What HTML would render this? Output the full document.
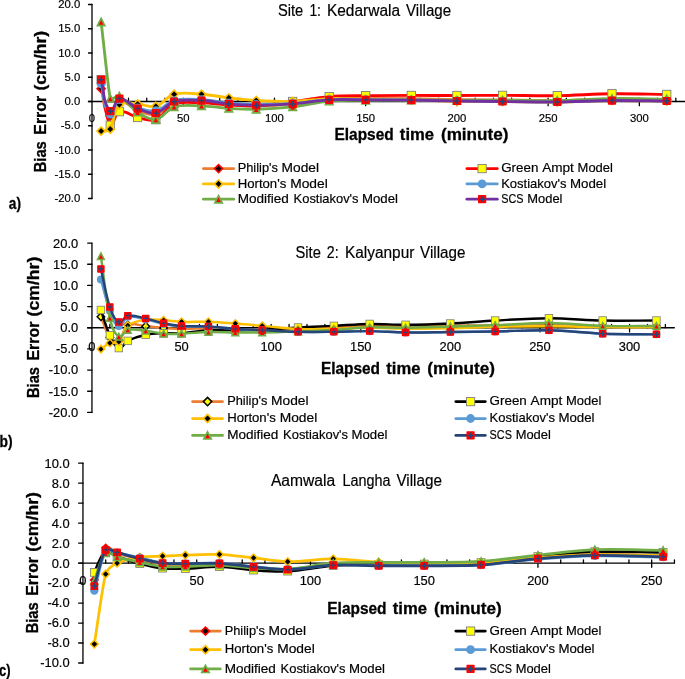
<!DOCTYPE html>
<html><head><meta charset="utf-8"><title>Bias Error charts</title>
<style>html,body{margin:0;padding:0;background:#fff}body{width:685px;height:679px;overflow:hidden}svg{display:block}text{font-family:'Liberation Sans', sans-serif;stroke:#000;stroke-width:.18px}</style></head><body>
<svg width="685" height="679" viewBox="0 0 685 679">
<rect width="685" height="679" fill="#fff"/>
<g>
<g stroke="#000" stroke-width="1.3" stroke-linecap="round" stroke-linejoin="round" fill="none">
<path d="M92,4.5V198.5"/>
<path d="M88.5,4.5H92M88.5,28.75H92M88.5,53H92M88.5,77.25H92M88.5,101.5H92M88.5,125.75H92M88.5,150H92M88.5,174.25H92M88.5,198.5H92"/>
<path d="M88.5,101.5H684.96"/>
<path d="M110.25,101.5V98.2M128.49,101.5V98.2M146.74,101.5V98.2M164.98,101.5V98.2M183.22,101.5V98.2M183.22,101.5V105.7M201.47,101.5V98.2M219.72,101.5V98.2M237.96,101.5V98.2M256.21,101.5V98.2M274.45,101.5V98.2M274.45,101.5V105.7M292.69,101.5V98.2M310.94,101.5V98.2M329.19,101.5V98.2M347.43,101.5V98.2M365.68,101.5V98.2M365.68,101.5V105.7M383.92,101.5V98.2M402.17,101.5V98.2M420.41,101.5V98.2M438.66,101.5V98.2M456.9,101.5V98.2M456.9,101.5V105.7M475.14,101.5V98.2M493.39,101.5V98.2M511.63,101.5V98.2M529.88,101.5V98.2M548.12,101.5V98.2M548.12,101.5V105.7M566.37,101.5V98.2M584.62,101.5V98.2M602.86,101.5V98.2M621.11,101.5V98.2M639.35,101.5V98.2M639.35,101.5V105.7M657.6,101.5V98.2M675.84,101.5V98.2"/>
</g>
<g font-size="11.3">
<text x="80.2" y="8.1" text-anchor="end">20.0</text>
<text x="80.2" y="32.35" text-anchor="end">15.0</text>
<text x="80.2" y="56.6" text-anchor="end">10.0</text>
<text x="80.2" y="80.85" text-anchor="end">5.0</text>
<text x="80.2" y="105.1" text-anchor="end">0.0</text>
<text x="80.2" y="129.35" text-anchor="end">-5.0</text>
<text x="80.2" y="153.6" text-anchor="end">-10.0</text>
<text x="80.2" y="177.85" text-anchor="end">-15.0</text>
<text x="80.2" y="202.1" text-anchor="end">-20.0</text>
<text x="92" y="121.6" text-anchor="middle">0</text>
<text x="183.22" y="121.6" text-anchor="middle">50</text>
<text x="274.45" y="121.6" text-anchor="middle">100</text>
<text x="365.68" y="121.6" text-anchor="middle">150</text>
<text x="456.9" y="121.6" text-anchor="middle">200</text>
<text x="548.12" y="121.6" text-anchor="middle">250</text>
<text x="639.35" y="121.6" text-anchor="middle">300</text>
</g>
<path d="M101.12,88.65C104.16,97.78 102.37,110.51 110.25,116.05C114.92,119.35 113.77,102.69 119.37,101.5C125.96,100.1 131.27,107.95 137.61,110.23C143.5,112.34 149.72,115.82 155.86,114.59C162.93,113.18 167.17,104.95 174.1,102.95C182.88,100.43 192.34,101.26 201.47,101.5C210.64,101.74 219.69,103.68 228.84,104.41C237.94,105.14 247.07,105.93 256.21,105.86C268.39,105.77 280.57,105.13 292.69,103.92C304.93,102.71 316.93,99.53 329.19,98.59C341.31,97.66 353.51,98.35 365.68,98.35C380.88,98.35 396.08,98.39 411.29,98.59C426.49,98.79 441.69,99.32 456.9,99.56C472.1,99.8 487.31,99.9 502.51,100.05C520.76,100.22 539,100.69 557.25,100.53C575.5,100.37 593.73,99.24 611.98,99.08C630.23,98.91 648.47,99.4 666.72,99.56" fill="none" stroke="#ed7d31" stroke-width="2.85" stroke-linecap="round" stroke-linejoin="round"/>
<path d="M101.12,84.65L105.12,88.65L101.12,92.65L97.12,88.65Z" fill="#000" stroke="#f00" stroke-width="1.6" stroke-linejoin="miter"/><path d="M110.25,112.05L114.25,116.05L110.25,120.05L106.25,116.05Z" fill="#000" stroke="#f00" stroke-width="1.6" stroke-linejoin="miter"/><path d="M119.37,97.5L123.37,101.5L119.37,105.5L115.37,101.5Z" fill="#000" stroke="#f00" stroke-width="1.6" stroke-linejoin="miter"/><path d="M137.61,106.23L141.61,110.23L137.61,114.23L133.61,110.23Z" fill="#000" stroke="#f00" stroke-width="1.6" stroke-linejoin="miter"/><path d="M155.86,110.59L159.86,114.59L155.86,118.59L151.86,114.59Z" fill="#000" stroke="#f00" stroke-width="1.6" stroke-linejoin="miter"/><path d="M174.1,98.95L178.1,102.95L174.1,106.95L170.1,102.95Z" fill="#000" stroke="#f00" stroke-width="1.6" stroke-linejoin="miter"/><path d="M201.47,97.5L205.47,101.5L201.47,105.5L197.47,101.5Z" fill="#000" stroke="#f00" stroke-width="1.6" stroke-linejoin="miter"/><path d="M228.84,100.41L232.84,104.41L228.84,108.41L224.84,104.41Z" fill="#000" stroke="#f00" stroke-width="1.6" stroke-linejoin="miter"/><path d="M256.21,101.86L260.21,105.86L256.21,109.86L252.21,105.86Z" fill="#000" stroke="#f00" stroke-width="1.6" stroke-linejoin="miter"/><path d="M292.69,99.92L296.69,103.92L292.69,107.92L288.69,103.92Z" fill="#000" stroke="#f00" stroke-width="1.6" stroke-linejoin="miter"/><path d="M329.19,94.59L333.19,98.59L329.19,102.59L325.19,98.59Z" fill="#000" stroke="#f00" stroke-width="1.6" stroke-linejoin="miter"/><path d="M365.68,94.35L369.68,98.35L365.68,102.35L361.68,98.35Z" fill="#000" stroke="#f00" stroke-width="1.6" stroke-linejoin="miter"/><path d="M411.29,94.59L415.29,98.59L411.29,102.59L407.29,98.59Z" fill="#000" stroke="#f00" stroke-width="1.6" stroke-linejoin="miter"/><path d="M456.9,95.56L460.9,99.56L456.9,103.56L452.9,99.56Z" fill="#000" stroke="#f00" stroke-width="1.6" stroke-linejoin="miter"/><path d="M502.51,96.05L506.51,100.05L502.51,104.05L498.51,100.05Z" fill="#000" stroke="#f00" stroke-width="1.6" stroke-linejoin="miter"/><path d="M557.25,96.53L561.25,100.53L557.25,104.53L553.25,100.53Z" fill="#000" stroke="#f00" stroke-width="1.6" stroke-linejoin="miter"/><path d="M611.98,95.08L615.98,99.08L611.98,103.08L607.98,99.08Z" fill="#000" stroke="#f00" stroke-width="1.6" stroke-linejoin="miter"/><path d="M666.72,95.56L670.72,99.56L666.72,103.56L662.72,99.56Z" fill="#000" stroke="#f00" stroke-width="1.6" stroke-linejoin="miter"/>
<path d="M101.12,79.67C104.16,94.87 104.17,114.61 110.25,125.27C112.95,130 114.12,113.17 119.37,111.69C125.51,109.94 131.38,116.14 137.61,117.5C143.6,118.82 150.12,121.82 155.86,119.69C163.39,116.88 166.56,106.69 174.1,103.92C182.67,100.78 192.34,102.79 201.47,102.95C210.61,103.12 219.71,104.41 228.84,104.89C237.95,105.38 247.09,106.35 256.21,105.86C268.44,105.21 280.54,103.03 292.69,101.5C304.87,99.96 316.95,97.63 329.19,96.65C341.31,95.68 353.51,95.86 365.68,95.68C380.88,95.46 396.08,95.47 411.29,95.44C426.49,95.41 441.7,95.5 456.9,95.49C472.1,95.47 487.31,95.31 502.51,95.34C520.76,95.38 539,95.95 557.25,95.68C575.5,95.41 593.73,93.94 611.98,93.74C630.23,93.54 648.47,94.22 666.72,94.47" fill="none" stroke="#ff0000" stroke-width="2.85" stroke-linecap="round" stroke-linejoin="round"/>
<rect x="96.97" y="75.52" width="8.3" height="8.3" fill="#ff0" stroke="#7f7f7f" stroke-width="0.9"/><rect x="106.09" y="121.11" width="8.3" height="8.3" fill="#ff0" stroke="#7f7f7f" stroke-width="0.9"/><rect x="115.22" y="107.53" width="8.3" height="8.3" fill="#ff0" stroke="#7f7f7f" stroke-width="0.9"/><rect x="133.46" y="113.35" width="8.3" height="8.3" fill="#ff0" stroke="#7f7f7f" stroke-width="0.9"/><rect x="151.71" y="115.54" width="8.3" height="8.3" fill="#ff0" stroke="#7f7f7f" stroke-width="0.9"/><rect x="169.95" y="99.77" width="8.3" height="8.3" fill="#ff0" stroke="#7f7f7f" stroke-width="0.9"/><rect x="197.32" y="98.8" width="8.3" height="8.3" fill="#ff0" stroke="#7f7f7f" stroke-width="0.9"/><rect x="224.69" y="100.74" width="8.3" height="8.3" fill="#ff0" stroke="#7f7f7f" stroke-width="0.9"/><rect x="252.06" y="101.71" width="8.3" height="8.3" fill="#ff0" stroke="#7f7f7f" stroke-width="0.9"/><rect x="288.55" y="97.35" width="8.3" height="8.3" fill="#ff0" stroke="#7f7f7f" stroke-width="0.9"/><rect x="325.04" y="92.5" width="8.3" height="8.3" fill="#ff0" stroke="#7f7f7f" stroke-width="0.9"/><rect x="361.53" y="91.53" width="8.3" height="8.3" fill="#ff0" stroke="#7f7f7f" stroke-width="0.9"/><rect x="407.14" y="91.29" width="8.3" height="8.3" fill="#ff0" stroke="#7f7f7f" stroke-width="0.9"/><rect x="452.75" y="91.34" width="8.3" height="8.3" fill="#ff0" stroke="#7f7f7f" stroke-width="0.9"/><rect x="498.36" y="91.19" width="8.3" height="8.3" fill="#ff0" stroke="#7f7f7f" stroke-width="0.9"/><rect x="553.1" y="91.53" width="8.3" height="8.3" fill="#ff0" stroke="#7f7f7f" stroke-width="0.9"/><rect x="607.83" y="89.59" width="8.3" height="8.3" fill="#ff0" stroke="#7f7f7f" stroke-width="0.9"/><rect x="662.57" y="90.32" width="8.3" height="8.3" fill="#ff0" stroke="#7f7f7f" stroke-width="0.9"/>
<path d="M101.12,131.09C104.16,130.44 108.48,131.7 110.25,129.15C114.22,123.39 112.96,110.56 119.37,104.65C123.84,100.53 131.53,103.64 137.61,103.92C143.74,104.21 149.93,107.93 155.86,106.35C162.91,104.47 167.05,96.1 174.1,94.22C182.92,91.88 192.37,93.62 201.47,94.22C210.65,94.84 219.7,96.81 228.84,97.86C237.94,98.91 247.05,100.01 256.21,100.53C268.35,101.22 280.53,101.82 292.69,101.5C304.89,101.18 316.99,99 329.19,98.59C341.34,98.19 353.51,98.86 365.68,99.08C380.88,99.34 396.09,99.64 411.29,100.05C426.49,100.45 441.69,101.26 456.9,101.5C472.1,101.74 487.31,101.43 502.51,101.5C520.76,101.59 539,102.15 557.25,101.98C575.5,101.82 593.73,100.69 611.98,100.53C630.23,100.37 648.47,100.85 666.72,101.02" fill="none" stroke="#ffc000" stroke-width="2.85" stroke-linecap="round" stroke-linejoin="round"/>
<path d="M101.12,126.99L105.22,131.09L101.12,135.19L97.02,131.09Z" fill="#000" stroke="#ffc000" stroke-width="1.6"/><path d="M110.25,125.05L114.34,129.15L110.25,133.25L106.15,129.15Z" fill="#000" stroke="#ffc000" stroke-width="1.6"/><path d="M119.37,100.55L123.47,104.65L119.37,108.75L115.27,104.65Z" fill="#000" stroke="#ffc000" stroke-width="1.6"/><path d="M137.61,99.83L141.71,103.92L137.61,108.02L133.51,103.92Z" fill="#000" stroke="#ffc000" stroke-width="1.6"/><path d="M155.86,102.25L159.96,106.35L155.86,110.45L151.76,106.35Z" fill="#000" stroke="#ffc000" stroke-width="1.6"/><path d="M174.1,90.12L178.2,94.22L174.1,98.32L170,94.22Z" fill="#000" stroke="#ffc000" stroke-width="1.6"/><path d="M201.47,90.12L205.57,94.22L201.47,98.32L197.37,94.22Z" fill="#000" stroke="#ffc000" stroke-width="1.6"/><path d="M228.84,93.76L232.94,97.86L228.84,101.96L224.74,97.86Z" fill="#000" stroke="#ffc000" stroke-width="1.6"/><path d="M256.21,96.43L260.31,100.53L256.21,104.63L252.11,100.53Z" fill="#000" stroke="#ffc000" stroke-width="1.6"/><path d="M292.69,97.4L296.8,101.5L292.69,105.6L288.59,101.5Z" fill="#000" stroke="#ffc000" stroke-width="1.6"/><path d="M329.19,94.49L333.29,98.59L329.19,102.69L325.08,98.59Z" fill="#000" stroke="#ffc000" stroke-width="1.6"/><path d="M365.68,94.98L369.78,99.08L365.68,103.17L361.57,99.08Z" fill="#000" stroke="#ffc000" stroke-width="1.6"/><path d="M411.29,95.95L415.39,100.05L411.29,104.14L407.19,100.05Z" fill="#000" stroke="#ffc000" stroke-width="1.6"/><path d="M456.9,97.4L461,101.5L456.9,105.6L452.8,101.5Z" fill="#000" stroke="#ffc000" stroke-width="1.6"/><path d="M502.51,97.4L506.61,101.5L502.51,105.6L498.41,101.5Z" fill="#000" stroke="#ffc000" stroke-width="1.6"/><path d="M557.25,97.89L561.35,101.98L557.25,106.08L553.15,101.98Z" fill="#000" stroke="#ffc000" stroke-width="1.6"/><path d="M611.98,96.43L616.08,100.53L611.98,104.63L607.88,100.53Z" fill="#000" stroke="#ffc000" stroke-width="1.6"/><path d="M666.72,96.92L670.82,101.02L666.72,105.11L662.62,101.02Z" fill="#000" stroke="#ffc000" stroke-width="1.6"/>
<path d="M101.12,83.8C104.16,93.9 102.26,107.21 110.25,114.11C114.58,117.85 113.79,100.85 119.37,99.56C125.87,98.06 131.23,105.85 137.61,107.81C143.5,109.61 149.82,111.92 155.86,110.72C162.69,109.35 167.34,102.18 174.1,100.53C182.97,98.36 192.35,99.16 201.47,99.56C210.65,99.97 219.68,102.14 228.84,102.95C237.94,103.76 247.07,104.34 256.21,104.41C268.37,104.5 280.55,104.25 292.69,103.44C304.9,102.63 316.97,100.21 329.19,99.56C341.33,98.91 353.51,99.52 365.68,99.56C380.88,99.6 396.08,99.6 411.29,99.8C426.49,100 441.69,100.53 456.9,100.77C472.1,101.01 487.31,101.11 502.51,101.26C520.76,101.43 539,101.9 557.25,101.74C575.5,101.58 593.73,100.45 611.98,100.29C630.23,100.13 648.47,100.61 666.72,100.77" fill="none" stroke="#5b9bd5" stroke-width="2.85" stroke-linecap="round" stroke-linejoin="round"/>
<circle cx="101.12" cy="83.8" r="4.4" fill="#5b9bd5"/><circle cx="110.25" cy="114.11" r="4.4" fill="#5b9bd5"/><circle cx="119.37" cy="99.56" r="4.4" fill="#5b9bd5"/><circle cx="137.61" cy="107.81" r="4.4" fill="#5b9bd5"/><circle cx="155.86" cy="110.72" r="4.4" fill="#5b9bd5"/><circle cx="174.1" cy="100.53" r="4.4" fill="#5b9bd5"/><circle cx="201.47" cy="99.56" r="4.4" fill="#5b9bd5"/><circle cx="228.84" cy="102.95" r="4.4" fill="#5b9bd5"/><circle cx="256.21" cy="104.41" r="4.4" fill="#5b9bd5"/><circle cx="292.69" cy="103.44" r="4.4" fill="#5b9bd5"/><circle cx="329.19" cy="99.56" r="4.4" fill="#5b9bd5"/><circle cx="365.68" cy="99.56" r="4.4" fill="#5b9bd5"/><circle cx="411.29" cy="99.8" r="4.4" fill="#5b9bd5"/><circle cx="456.9" cy="100.77" r="4.4" fill="#5b9bd5"/><circle cx="502.51" cy="101.26" r="4.4" fill="#5b9bd5"/><circle cx="557.25" cy="101.74" r="4.4" fill="#5b9bd5"/><circle cx="611.98" cy="100.29" r="4.4" fill="#5b9bd5"/><circle cx="666.72" cy="100.77" r="4.4" fill="#5b9bd5"/>
<path d="M101.12,21.96C104.16,47.5 108.55,91.72 110.25,98.59C111,101.65 116.55,94.77 119.37,96.17C125.71,99.31 130.79,107.82 137.61,112.17C143.13,115.69 149.38,120.39 155.86,119.44C163.17,118.38 167.02,108.94 174.1,106.83C182.85,104.23 192.34,105.62 201.47,105.86C210.63,106.11 219.7,107.72 228.84,108.29C237.95,108.86 247.08,109.47 256.21,109.26C268.39,108.98 280.58,108.2 292.69,106.83C304.93,105.45 316.92,102.12 329.19,101.02C341.3,99.93 353.51,100.43 365.68,100.29C380.88,100.11 396.08,100.05 411.29,100.05C426.49,100.05 441.7,100.27 456.9,100.29C472.1,100.3 487.31,100.11 502.51,100.14C520.76,100.19 539,100.79 557.25,100.53C575.5,100.27 593.73,98.83 611.98,98.59C630.23,98.35 648.47,98.91 666.72,99.08" fill="none" stroke="#70ad47" stroke-width="2.85" stroke-linecap="round" stroke-linejoin="round"/>
<path d="M101.12,18.36L104.82,25.56L97.42,25.56Z" fill="#f00" stroke="#70ad47" stroke-width="1.7" stroke-linejoin="miter"/><path d="M110.25,94.99L113.95,102.19L106.55,102.19Z" fill="#f00" stroke="#70ad47" stroke-width="1.7" stroke-linejoin="miter"/><path d="M119.37,92.57L123.07,99.77L115.67,99.77Z" fill="#f00" stroke="#70ad47" stroke-width="1.7" stroke-linejoin="miter"/><path d="M137.61,108.57L141.31,115.77L133.91,115.77Z" fill="#f00" stroke="#70ad47" stroke-width="1.7" stroke-linejoin="miter"/><path d="M155.86,115.84L159.56,123.04L152.16,123.04Z" fill="#f00" stroke="#70ad47" stroke-width="1.7" stroke-linejoin="miter"/><path d="M174.1,103.23L177.8,110.43L170.4,110.43Z" fill="#f00" stroke="#70ad47" stroke-width="1.7" stroke-linejoin="miter"/><path d="M201.47,102.27L205.17,109.46L197.77,109.46Z" fill="#f00" stroke="#70ad47" stroke-width="1.7" stroke-linejoin="miter"/><path d="M228.84,104.69L232.54,111.89L225.14,111.89Z" fill="#f00" stroke="#70ad47" stroke-width="1.7" stroke-linejoin="miter"/><path d="M256.21,105.66L259.91,112.86L252.51,112.86Z" fill="#f00" stroke="#70ad47" stroke-width="1.7" stroke-linejoin="miter"/><path d="M292.69,103.23L296.39,110.43L289,110.43Z" fill="#f00" stroke="#70ad47" stroke-width="1.7" stroke-linejoin="miter"/><path d="M329.19,97.42L332.88,104.61L325.49,104.61Z" fill="#f00" stroke="#70ad47" stroke-width="1.7" stroke-linejoin="miter"/><path d="M365.68,96.69L369.38,103.89L361.98,103.89Z" fill="#f00" stroke="#70ad47" stroke-width="1.7" stroke-linejoin="miter"/><path d="M411.29,96.45L414.99,103.64L407.59,103.64Z" fill="#f00" stroke="#70ad47" stroke-width="1.7" stroke-linejoin="miter"/><path d="M456.9,96.69L460.6,103.89L453.2,103.89Z" fill="#f00" stroke="#70ad47" stroke-width="1.7" stroke-linejoin="miter"/><path d="M502.51,96.54L506.21,103.74L498.81,103.74Z" fill="#f00" stroke="#70ad47" stroke-width="1.7" stroke-linejoin="miter"/><path d="M557.25,96.93L560.95,104.13L553.55,104.13Z" fill="#f00" stroke="#70ad47" stroke-width="1.7" stroke-linejoin="miter"/><path d="M611.98,94.99L615.68,102.19L608.28,102.19Z" fill="#f00" stroke="#70ad47" stroke-width="1.7" stroke-linejoin="miter"/><path d="M666.72,95.48L670.42,102.67L663.02,102.67Z" fill="#f00" stroke="#70ad47" stroke-width="1.7" stroke-linejoin="miter"/>
<path d="M101.12,79.67C104.16,90.18 102.65,103.33 110.25,111.2C113.85,114.93 114.2,99.09 119.37,98.59C126.26,97.92 131.18,105.97 137.61,108.53C143.44,110.86 149.7,114.33 155.86,113.14C162.94,111.77 167.15,103.42 174.1,101.5C182.9,99.07 192.35,100.13 201.47,100.53C210.65,100.94 219.68,103.11 228.84,103.92C237.94,104.73 247.07,105.38 256.21,105.38C268.38,105.38 280.56,104.85 292.69,103.92C304.9,102.99 316.96,100.49 329.19,99.8C341.33,99.12 353.51,99.77 365.68,99.8C380.88,99.85 396.08,99.84 411.29,100.05C426.49,100.25 441.69,100.77 456.9,101.02C472.1,101.26 487.31,101.35 502.51,101.5C520.76,101.68 539,102.15 557.25,101.98C575.5,101.82 593.73,100.69 611.98,100.53C630.23,100.37 648.47,100.85 666.72,101.02" fill="none" stroke="#7030a0" stroke-width="2.85" stroke-linecap="round" stroke-linejoin="round"/>
<rect x="97.72" y="76.27" width="6.8" height="6.8" fill="#f00" stroke="#f00" stroke-width="1.4" stroke-linejoin="round"/><path d="M98.22,79.67H104.02M101.12,76.77V82.58" stroke="#264478" stroke-width="1.5" fill="none"/><rect x="106.84" y="107.8" width="6.8" height="6.8" fill="#f00" stroke="#f00" stroke-width="1.4" stroke-linejoin="round"/><path d="M107.34,111.2H113.15M110.25,108.3V114.1" stroke="#264478" stroke-width="1.5" fill="none"/><rect x="115.97" y="95.19" width="6.8" height="6.8" fill="#f00" stroke="#f00" stroke-width="1.4" stroke-linejoin="round"/><path d="M116.47,98.59H122.27M119.37,95.69V101.49" stroke="#264478" stroke-width="1.5" fill="none"/><rect x="134.21" y="105.13" width="6.8" height="6.8" fill="#f00" stroke="#f00" stroke-width="1.4" stroke-linejoin="round"/><path d="M134.71,108.53H140.51M137.61,105.63V111.43" stroke="#264478" stroke-width="1.5" fill="none"/><rect x="152.46" y="109.74" width="6.8" height="6.8" fill="#f00" stroke="#f00" stroke-width="1.4" stroke-linejoin="round"/><path d="M152.96,113.14H158.76M155.86,110.24V116.04" stroke="#264478" stroke-width="1.5" fill="none"/><rect x="170.7" y="98.1" width="6.8" height="6.8" fill="#f00" stroke="#f00" stroke-width="1.4" stroke-linejoin="round"/><path d="M171.2,101.5H177M174.1,98.6V104.4" stroke="#264478" stroke-width="1.5" fill="none"/><rect x="198.07" y="97.13" width="6.8" height="6.8" fill="#f00" stroke="#f00" stroke-width="1.4" stroke-linejoin="round"/><path d="M198.57,100.53H204.37M201.47,97.63V103.43" stroke="#264478" stroke-width="1.5" fill="none"/><rect x="225.44" y="100.52" width="6.8" height="6.8" fill="#f00" stroke="#f00" stroke-width="1.4" stroke-linejoin="round"/><path d="M225.94,103.92H231.74M228.84,101.02V106.83" stroke="#264478" stroke-width="1.5" fill="none"/><rect x="252.81" y="101.98" width="6.8" height="6.8" fill="#f00" stroke="#f00" stroke-width="1.4" stroke-linejoin="round"/><path d="M253.31,105.38H259.11M256.21,102.48V108.28" stroke="#264478" stroke-width="1.5" fill="none"/><rect x="289.3" y="100.52" width="6.8" height="6.8" fill="#f00" stroke="#f00" stroke-width="1.4" stroke-linejoin="round"/><path d="M289.8,103.92H295.59M292.69,101.02V106.83" stroke="#264478" stroke-width="1.5" fill="none"/><rect x="325.79" y="96.4" width="6.8" height="6.8" fill="#f00" stroke="#f00" stroke-width="1.4" stroke-linejoin="round"/><path d="M326.29,99.8H332.08M329.19,96.9V102.7" stroke="#264478" stroke-width="1.5" fill="none"/><rect x="362.28" y="96.4" width="6.8" height="6.8" fill="#f00" stroke="#f00" stroke-width="1.4" stroke-linejoin="round"/><path d="M362.78,99.8H368.57M365.68,96.9V102.7" stroke="#264478" stroke-width="1.5" fill="none"/><rect x="407.89" y="96.64" width="6.8" height="6.8" fill="#f00" stroke="#f00" stroke-width="1.4" stroke-linejoin="round"/><path d="M408.39,100.05H414.19M411.29,97.14V102.95" stroke="#264478" stroke-width="1.5" fill="none"/><rect x="453.5" y="97.61" width="6.8" height="6.8" fill="#f00" stroke="#f00" stroke-width="1.4" stroke-linejoin="round"/><path d="M454,101.02H459.8M456.9,98.11V103.92" stroke="#264478" stroke-width="1.5" fill="none"/><rect x="499.11" y="98.1" width="6.8" height="6.8" fill="#f00" stroke="#f00" stroke-width="1.4" stroke-linejoin="round"/><path d="M499.61,101.5H505.41M502.51,98.6V104.4" stroke="#264478" stroke-width="1.5" fill="none"/><rect x="553.85" y="98.58" width="6.8" height="6.8" fill="#f00" stroke="#f00" stroke-width="1.4" stroke-linejoin="round"/><path d="M554.35,101.98H560.15M557.25,99.08V104.89" stroke="#264478" stroke-width="1.5" fill="none"/><rect x="608.58" y="97.13" width="6.8" height="6.8" fill="#f00" stroke="#f00" stroke-width="1.4" stroke-linejoin="round"/><path d="M609.08,100.53H614.88M611.98,97.63V103.43" stroke="#264478" stroke-width="1.5" fill="none"/><rect x="663.32" y="97.61" width="6.8" height="6.8" fill="#f00" stroke="#f00" stroke-width="1.4" stroke-linejoin="round"/><path d="M663.82,101.02H669.62M666.72,98.11V103.92" stroke="#264478" stroke-width="1.5" fill="none"/>
<text x="277.9" y="16" font-size="15.8" fill="#000"><tspan x="277.9" textLength="25.27" lengthAdjust="spacingAndGlyphs">Site</tspan><tspan> </tspan><tspan x="309.4" textLength="11.59" lengthAdjust="spacingAndGlyphs">1:</tspan><tspan> </tspan><tspan x="326.9" textLength="73.23" lengthAdjust="spacingAndGlyphs">Kedarwala</tspan><tspan> </tspan><tspan x="406" textLength="45.09" lengthAdjust="spacingAndGlyphs">Village</tspan></text>
<text x="334.5" y="139.7" font-size="16.6" font-weight="bold" style="stroke-width:0.3px" fill="#000"><tspan x="334.5" textLength="59.14" lengthAdjust="spacingAndGlyphs">Elapsed</tspan><tspan> </tspan><tspan x="399.85" textLength="34.2" lengthAdjust="spacingAndGlyphs">time</tspan><tspan> </tspan><tspan x="440.94" textLength="67.54" lengthAdjust="spacingAndGlyphs">(minute)</tspan></text>
<text x="46" y="172.3" font-size="16.4" font-weight="bold" transform="rotate(-90 46 172.3)" style="stroke-width:0.3px" fill="#000"><tspan x="46" textLength="31.09" lengthAdjust="spacingAndGlyphs">Bias</tspan><tspan> </tspan><tspan x="83.59" textLength="39" lengthAdjust="spacingAndGlyphs">Error</tspan><tspan> </tspan><tspan x="127.7" textLength="59.88" lengthAdjust="spacingAndGlyphs">(cm/hr)</tspan></text>
<text x="0" y="209" font-size="16.4" font-weight="bold" style="stroke-width:0.3px" fill="#000"><tspan x="8.8" textLength="12.19" lengthAdjust="spacingAndGlyphs">a)</tspan></text>
<path d="M203.4,168.6H233.7" stroke="#ed7d31" stroke-width="2.75" stroke-linecap="round"/>
<path d="M218.55,164.6L222.55,168.6L218.55,172.6L214.55,168.6Z" fill="#000" stroke="#f00" stroke-width="1.6" stroke-linejoin="miter"/>
<text x="237.7" y="172.2" font-size="13" fill="#000"><tspan x="237.7" textLength="40.22" lengthAdjust="spacingAndGlyphs">Philip's</tspan><tspan> </tspan><tspan x="281.6" textLength="37.48" lengthAdjust="spacingAndGlyphs">Model</tspan></text>
<path d="M203.4,183.9H233.7" stroke="#ffc000" stroke-width="2.75" stroke-linecap="round"/>
<path d="M218.55,179.8L222.65,183.9L218.55,188L214.45,183.9Z" fill="#000" stroke="#ffc000" stroke-width="1.6"/>
<text x="237.7" y="187.5" font-size="13" fill="#000"><tspan x="237.7" textLength="48.57" lengthAdjust="spacingAndGlyphs">Horton's</tspan><tspan> </tspan><tspan x="290.2" textLength="37.58" lengthAdjust="spacingAndGlyphs">Model</tspan></text>
<path d="M203.4,199.2H233.7" stroke="#70ad47" stroke-width="2.75" stroke-linecap="round"/>
<path d="M218.55,195.6L222.25,202.8L214.85,202.8Z" fill="#f00" stroke="#70ad47" stroke-width="1.7" stroke-linejoin="miter"/>
<text x="237.7" y="202.8" font-size="13" fill="#000"><tspan x="237.7" textLength="51.2" lengthAdjust="spacingAndGlyphs">Modified</tspan><tspan> </tspan><tspan x="293.6" textLength="64.92" lengthAdjust="spacingAndGlyphs">Kostiakov's</tspan><tspan> </tspan><tspan x="362" textLength="35.98" lengthAdjust="spacingAndGlyphs">Model</tspan></text>
<path d="M466.9,168.6H497.3" stroke="#ff0000" stroke-width="2.75" stroke-linecap="round"/>
<rect x="477.95" y="164.45" width="8.3" height="8.3" fill="#ff0" stroke="#7f7f7f" stroke-width="0.9"/>
<text x="501.2" y="172.2" font-size="13" fill="#000"><tspan x="501.2" textLength="37.19" lengthAdjust="spacingAndGlyphs">Green</tspan><tspan> </tspan><tspan x="542.2" textLength="31.69" lengthAdjust="spacingAndGlyphs">Ampt</tspan><tspan> </tspan><tspan x="577.6" textLength="35.28" lengthAdjust="spacingAndGlyphs">Model</tspan></text>
<path d="M466.9,183.9H497.3" stroke="#5b9bd5" stroke-width="2.75" stroke-linecap="round"/>
<circle cx="482.1" cy="183.9" r="4.4" fill="#5b9bd5"/>
<text x="501.2" y="187.5" font-size="13" fill="#000"><tspan x="501.2" textLength="65.32" lengthAdjust="spacingAndGlyphs">Kostiakov's</tspan><tspan> </tspan><tspan x="570" textLength="36.18" lengthAdjust="spacingAndGlyphs">Model</tspan></text>
<path d="M466.9,199.2H497.3" stroke="#7030a0" stroke-width="2.75" stroke-linecap="round"/>
<rect x="478.7" y="195.8" width="6.8" height="6.8" fill="#f00" stroke="#f00" stroke-width="1.4" stroke-linejoin="round"/><path d="M479.2,199.2H485M482.1,196.3V202.1" stroke="#264478" stroke-width="1.5" fill="none"/>
<text x="501.2" y="202.8" font-size="13" fill="#000"><tspan x="501.2" textLength="22.31" lengthAdjust="spacingAndGlyphs">SCS</tspan><tspan> </tspan><tspan x="527.3" textLength="35.18" lengthAdjust="spacingAndGlyphs">Model</tspan></text>
</g>
<g>
<g stroke="#000" stroke-width="1.3" stroke-linecap="round" stroke-linejoin="round" fill="none">
<path d="M91.95,243.1V412.4"/>
<path d="M87.65,243.1H91.95M87.65,264.26H91.95M87.65,285.43H91.95M87.65,306.59H91.95M87.65,327.75H91.95M87.65,348.91H91.95M87.65,370.07H91.95M87.65,391.24H91.95M87.65,412.4H91.95"/>
<path d="M87.65,327.75H674.35"/>
<path d="M109.87,327.75V324.45M127.79,327.75V324.45M145.71,327.75V324.45M163.63,327.75V324.45M181.55,327.75V324.45M181.55,327.75V331.95M199.47,327.75V324.45M217.39,327.75V324.45M235.31,327.75V324.45M253.23,327.75V324.45M271.15,327.75V324.45M271.15,327.75V331.95M289.07,327.75V324.45M306.99,327.75V324.45M324.91,327.75V324.45M342.83,327.75V324.45M360.75,327.75V324.45M360.75,327.75V331.95M378.67,327.75V324.45M396.59,327.75V324.45M414.51,327.75V324.45M432.43,327.75V324.45M450.35,327.75V324.45M450.35,327.75V331.95M468.27,327.75V324.45M486.19,327.75V324.45M504.11,327.75V324.45M522.03,327.75V324.45M539.95,327.75V324.45M539.95,327.75V331.95M557.87,327.75V324.45M575.79,327.75V324.45M593.71,327.75V324.45M611.63,327.75V324.45M629.55,327.75V324.45M629.55,327.75V331.95M647.47,327.75V324.45M665.39,327.75V324.45"/>
</g>
<g font-size="12.9">
<text x="78.2" y="247.5" text-anchor="end">20.0</text>
<text x="78.2" y="268.66" text-anchor="end">15.0</text>
<text x="78.2" y="289.82" text-anchor="end">10.0</text>
<text x="78.2" y="310.99" text-anchor="end">5.0</text>
<text x="78.2" y="332.15" text-anchor="end">0.0</text>
<text x="78.2" y="353.31" text-anchor="end">-5.0</text>
<text x="78.2" y="374.47" text-anchor="end">-10.0</text>
<text x="78.2" y="395.64" text-anchor="end">-15.0</text>
<text x="78.2" y="416.8" text-anchor="end">-20.0</text>
<text x="91.95" y="350.8" text-anchor="middle">0</text>
<text x="181.55" y="350.8" text-anchor="middle">50</text>
<text x="271.15" y="350.8" text-anchor="middle">100</text>
<text x="360.75" y="350.8" text-anchor="middle">150</text>
<text x="450.35" y="350.8" text-anchor="middle">200</text>
<text x="539.95" y="350.8" text-anchor="middle">250</text>
<text x="629.55" y="350.8" text-anchor="middle">300</text>
</g>
<path d="M100.91,316.75C103.9,323.66 105.6,331.84 109.87,337.48C111.77,339.99 116.25,342.25 118.83,340.45C123.71,337.04 122.52,327.78 127.79,325C133.09,322.2 139.74,325.78 145.71,326.27C151.69,326.76 157.65,327.5 163.63,327.96C169.6,328.42 175.57,328.99 181.55,329.02C190.51,329.06 199.47,328.17 208.43,328.17C217.39,328.17 226.35,328.81 235.31,329.02C244.27,329.23 253.23,329.5 262.19,329.44C274.14,329.36 286.09,329.02 298.03,328.6C309.98,328.17 321.92,327.36 333.87,326.9C345.81,326.45 357.76,325.95 369.71,325.85C381.66,325.74 393.6,326.3 405.55,326.27C420.48,326.23 435.42,325.77 450.35,325.63C465.28,325.49 480.22,325.71 495.15,325.42C513.08,325.08 530.98,323.62 548.91,323.73C566.85,323.84 584.74,325.62 602.67,326.06C620.58,326.49 638.51,326.25 656.43,326.35" fill="none" stroke="#ed7d31" stroke-width="2.45" stroke-linecap="round" stroke-linejoin="round"/>
<g transform="translate(100.91 316.75) scale(0.91)"><path d="M0,-4.2L4.2,0L0,4.2L-4.2,0Z" fill="#ff0" stroke="#000" stroke-width="1.5"/></g><g transform="translate(109.87 337.48) scale(0.91)"><path d="M0,-4.2L4.2,0L0,4.2L-4.2,0Z" fill="#ff0" stroke="#000" stroke-width="1.5"/></g><g transform="translate(118.83 340.45) scale(0.91)"><path d="M0,-4.2L4.2,0L0,4.2L-4.2,0Z" fill="#ff0" stroke="#000" stroke-width="1.5"/></g><g transform="translate(127.79 325) scale(0.91)"><path d="M0,-4.2L4.2,0L0,4.2L-4.2,0Z" fill="#ff0" stroke="#000" stroke-width="1.5"/></g><g transform="translate(145.71 326.27) scale(0.91)"><path d="M0,-4.2L4.2,0L0,4.2L-4.2,0Z" fill="#ff0" stroke="#000" stroke-width="1.5"/></g><g transform="translate(163.63 327.96) scale(0.91)"><path d="M0,-4.2L4.2,0L0,4.2L-4.2,0Z" fill="#ff0" stroke="#000" stroke-width="1.5"/></g><g transform="translate(181.55 329.02) scale(0.91)"><path d="M0,-4.2L4.2,0L0,4.2L-4.2,0Z" fill="#ff0" stroke="#000" stroke-width="1.5"/></g><g transform="translate(208.43 328.17) scale(0.91)"><path d="M0,-4.2L4.2,0L0,4.2L-4.2,0Z" fill="#ff0" stroke="#000" stroke-width="1.5"/></g><g transform="translate(235.31 329.02) scale(0.91)"><path d="M0,-4.2L4.2,0L0,4.2L-4.2,0Z" fill="#ff0" stroke="#000" stroke-width="1.5"/></g><g transform="translate(262.19 329.44) scale(0.91)"><path d="M0,-4.2L4.2,0L0,4.2L-4.2,0Z" fill="#ff0" stroke="#000" stroke-width="1.5"/></g><g transform="translate(298.03 328.6) scale(0.91)"><path d="M0,-4.2L4.2,0L0,4.2L-4.2,0Z" fill="#ff0" stroke="#000" stroke-width="1.5"/></g><g transform="translate(333.87 326.9) scale(0.91)"><path d="M0,-4.2L4.2,0L0,4.2L-4.2,0Z" fill="#ff0" stroke="#000" stroke-width="1.5"/></g><g transform="translate(369.71 325.85) scale(0.91)"><path d="M0,-4.2L4.2,0L0,4.2L-4.2,0Z" fill="#ff0" stroke="#000" stroke-width="1.5"/></g><g transform="translate(405.55 326.27) scale(0.91)"><path d="M0,-4.2L4.2,0L0,4.2L-4.2,0Z" fill="#ff0" stroke="#000" stroke-width="1.5"/></g><g transform="translate(450.35 325.63) scale(0.91)"><path d="M0,-4.2L4.2,0L0,4.2L-4.2,0Z" fill="#ff0" stroke="#000" stroke-width="1.5"/></g><g transform="translate(495.15 325.42) scale(0.91)"><path d="M0,-4.2L4.2,0L0,4.2L-4.2,0Z" fill="#ff0" stroke="#000" stroke-width="1.5"/></g><g transform="translate(548.91 323.73) scale(0.91)"><path d="M0,-4.2L4.2,0L0,4.2L-4.2,0Z" fill="#ff0" stroke="#000" stroke-width="1.5"/></g><g transform="translate(602.67 326.06) scale(0.91)"><path d="M0,-4.2L4.2,0L0,4.2L-4.2,0Z" fill="#ff0" stroke="#000" stroke-width="1.5"/></g><g transform="translate(656.43 326.35) scale(0.91)"><path d="M0,-4.2L4.2,0L0,4.2L-4.2,0Z" fill="#ff0" stroke="#000" stroke-width="1.5"/></g>
<path d="M100.91,309.97C103.9,318.44 106.05,327.25 109.87,335.37C112.08,340.06 113.88,346.55 118.83,348.07C122.49,349.19 124.36,342.57 127.79,340.87C133.45,338.07 139.53,336.05 145.71,334.73C151.57,333.49 157.64,333.5 163.63,333.25C169.6,333.01 175.59,333.65 181.55,333.25C190.54,332.66 199.43,330.79 208.43,330.29C217.38,329.8 226.35,330.36 235.31,330.29C244.27,330.22 253.24,330.26 262.19,329.87C274.15,329.34 286.08,328.21 298.03,327.54C309.97,326.87 321.93,326.44 333.87,325.85C345.82,325.25 357.75,324.12 369.71,323.94C381.66,323.76 393.6,324.85 405.55,324.79C420.49,324.71 435.43,324.22 450.35,323.52C465.3,322.81 480.21,321.36 495.15,320.55C513.06,319.59 530.97,318.23 548.91,318.23C566.85,318.23 584.74,320.17 602.67,320.55C620.59,320.94 638.51,320.55 656.43,320.55" fill="none" stroke="#000000" stroke-width="2.45" stroke-linecap="round" stroke-linejoin="round"/>
<g transform="translate(100.91 309.97) scale(0.91)"><rect x="-4.15" y="-4.15" width="8.3" height="8.3" fill="#ff0" stroke="#7f7f7f" stroke-width="0.9"/></g><g transform="translate(109.87 335.37) scale(0.91)"><rect x="-4.15" y="-4.15" width="8.3" height="8.3" fill="#ff0" stroke="#7f7f7f" stroke-width="0.9"/></g><g transform="translate(118.83 348.07) scale(0.91)"><rect x="-4.15" y="-4.15" width="8.3" height="8.3" fill="#ff0" stroke="#7f7f7f" stroke-width="0.9"/></g><g transform="translate(127.79 340.87) scale(0.91)"><rect x="-4.15" y="-4.15" width="8.3" height="8.3" fill="#ff0" stroke="#7f7f7f" stroke-width="0.9"/></g><g transform="translate(145.71 334.73) scale(0.91)"><rect x="-4.15" y="-4.15" width="8.3" height="8.3" fill="#ff0" stroke="#7f7f7f" stroke-width="0.9"/></g><g transform="translate(163.63 333.25) scale(0.91)"><rect x="-4.15" y="-4.15" width="8.3" height="8.3" fill="#ff0" stroke="#7f7f7f" stroke-width="0.9"/></g><g transform="translate(181.55 333.25) scale(0.91)"><rect x="-4.15" y="-4.15" width="8.3" height="8.3" fill="#ff0" stroke="#7f7f7f" stroke-width="0.9"/></g><g transform="translate(208.43 330.29) scale(0.91)"><rect x="-4.15" y="-4.15" width="8.3" height="8.3" fill="#ff0" stroke="#7f7f7f" stroke-width="0.9"/></g><g transform="translate(235.31 330.29) scale(0.91)"><rect x="-4.15" y="-4.15" width="8.3" height="8.3" fill="#ff0" stroke="#7f7f7f" stroke-width="0.9"/></g><g transform="translate(262.19 329.87) scale(0.91)"><rect x="-4.15" y="-4.15" width="8.3" height="8.3" fill="#ff0" stroke="#7f7f7f" stroke-width="0.9"/></g><g transform="translate(298.03 327.54) scale(0.91)"><rect x="-4.15" y="-4.15" width="8.3" height="8.3" fill="#ff0" stroke="#7f7f7f" stroke-width="0.9"/></g><g transform="translate(333.87 325.85) scale(0.91)"><rect x="-4.15" y="-4.15" width="8.3" height="8.3" fill="#ff0" stroke="#7f7f7f" stroke-width="0.9"/></g><g transform="translate(369.71 323.94) scale(0.91)"><rect x="-4.15" y="-4.15" width="8.3" height="8.3" fill="#ff0" stroke="#7f7f7f" stroke-width="0.9"/></g><g transform="translate(405.55 324.79) scale(0.91)"><rect x="-4.15" y="-4.15" width="8.3" height="8.3" fill="#ff0" stroke="#7f7f7f" stroke-width="0.9"/></g><g transform="translate(450.35 323.52) scale(0.91)"><rect x="-4.15" y="-4.15" width="8.3" height="8.3" fill="#ff0" stroke="#7f7f7f" stroke-width="0.9"/></g><g transform="translate(495.15 320.55) scale(0.91)"><rect x="-4.15" y="-4.15" width="8.3" height="8.3" fill="#ff0" stroke="#7f7f7f" stroke-width="0.9"/></g><g transform="translate(548.91 318.23) scale(0.91)"><rect x="-4.15" y="-4.15" width="8.3" height="8.3" fill="#ff0" stroke="#7f7f7f" stroke-width="0.9"/></g><g transform="translate(602.67 320.55) scale(0.91)"><rect x="-4.15" y="-4.15" width="8.3" height="8.3" fill="#ff0" stroke="#7f7f7f" stroke-width="0.9"/></g><g transform="translate(656.43 320.55) scale(0.91)"><rect x="-4.15" y="-4.15" width="8.3" height="8.3" fill="#ff0" stroke="#7f7f7f" stroke-width="0.9"/></g>
<path d="M100.91,349.12C103.9,347.08 106.52,344.37 109.87,342.99C112.66,341.83 116.68,343.83 118.83,341.72C123.26,337.38 122.99,329.35 127.79,325.42C132.64,321.45 139.51,320.62 145.71,319.71C151.62,318.84 157.67,319.78 163.63,320.13C169.62,320.49 175.55,321.6 181.55,321.82C190.5,322.16 199.47,321.54 208.43,321.82C217.4,322.11 226.36,322.85 235.31,323.52C244.28,324.19 253.23,325.06 262.19,325.85C274.14,326.89 286.05,328.56 298.03,329.02C309.97,329.48 321.92,328.81 333.87,328.6C345.82,328.38 357.76,327.75 369.71,327.75C381.66,327.75 393.6,328.5 405.55,328.6C420.48,328.71 435.42,328.67 450.35,328.38C465.29,328.1 480.21,327.22 495.15,326.9C513.07,326.52 530.99,326.23 548.91,326.27C566.83,326.3 584.75,326.97 602.67,327.12C620.59,327.26 638.51,327.12 656.43,327.12" fill="none" stroke="#ffc000" stroke-width="2.45" stroke-linecap="round" stroke-linejoin="round"/>
<g transform="translate(100.91 349.12) scale(0.91)"><path d="M0,-4.1L4.1,0L0,4.1L-4.1,0Z" fill="#000" stroke="#ffc000" stroke-width="1.6"/></g><g transform="translate(109.87 342.99) scale(0.91)"><path d="M0,-4.1L4.1,0L0,4.1L-4.1,0Z" fill="#000" stroke="#ffc000" stroke-width="1.6"/></g><g transform="translate(118.83 341.72) scale(0.91)"><path d="M0,-4.1L4.1,0L0,4.1L-4.1,0Z" fill="#000" stroke="#ffc000" stroke-width="1.6"/></g><g transform="translate(127.79 325.42) scale(0.91)"><path d="M0,-4.1L4.1,0L0,4.1L-4.1,0Z" fill="#000" stroke="#ffc000" stroke-width="1.6"/></g><g transform="translate(145.71 319.71) scale(0.91)"><path d="M0,-4.1L4.1,0L0,4.1L-4.1,0Z" fill="#000" stroke="#ffc000" stroke-width="1.6"/></g><g transform="translate(163.63 320.13) scale(0.91)"><path d="M0,-4.1L4.1,0L0,4.1L-4.1,0Z" fill="#000" stroke="#ffc000" stroke-width="1.6"/></g><g transform="translate(181.55 321.82) scale(0.91)"><path d="M0,-4.1L4.1,0L0,4.1L-4.1,0Z" fill="#000" stroke="#ffc000" stroke-width="1.6"/></g><g transform="translate(208.43 321.82) scale(0.91)"><path d="M0,-4.1L4.1,0L0,4.1L-4.1,0Z" fill="#000" stroke="#ffc000" stroke-width="1.6"/></g><g transform="translate(235.31 323.52) scale(0.91)"><path d="M0,-4.1L4.1,0L0,4.1L-4.1,0Z" fill="#000" stroke="#ffc000" stroke-width="1.6"/></g><g transform="translate(262.19 325.85) scale(0.91)"><path d="M0,-4.1L4.1,0L0,4.1L-4.1,0Z" fill="#000" stroke="#ffc000" stroke-width="1.6"/></g><g transform="translate(298.03 329.02) scale(0.91)"><path d="M0,-4.1L4.1,0L0,4.1L-4.1,0Z" fill="#000" stroke="#ffc000" stroke-width="1.6"/></g><g transform="translate(333.87 328.6) scale(0.91)"><path d="M0,-4.1L4.1,0L0,4.1L-4.1,0Z" fill="#000" stroke="#ffc000" stroke-width="1.6"/></g><g transform="translate(369.71 327.75) scale(0.91)"><path d="M0,-4.1L4.1,0L0,4.1L-4.1,0Z" fill="#000" stroke="#ffc000" stroke-width="1.6"/></g><g transform="translate(405.55 328.6) scale(0.91)"><path d="M0,-4.1L4.1,0L0,4.1L-4.1,0Z" fill="#000" stroke="#ffc000" stroke-width="1.6"/></g><g transform="translate(450.35 328.38) scale(0.91)"><path d="M0,-4.1L4.1,0L0,4.1L-4.1,0Z" fill="#000" stroke="#ffc000" stroke-width="1.6"/></g><g transform="translate(495.15 326.9) scale(0.91)"><path d="M0,-4.1L4.1,0L0,4.1L-4.1,0Z" fill="#000" stroke="#ffc000" stroke-width="1.6"/></g><g transform="translate(548.91 326.27) scale(0.91)"><path d="M0,-4.1L4.1,0L0,4.1L-4.1,0Z" fill="#000" stroke="#ffc000" stroke-width="1.6"/></g><g transform="translate(602.67 327.12) scale(0.91)"><path d="M0,-4.1L4.1,0L0,4.1L-4.1,0Z" fill="#000" stroke="#ffc000" stroke-width="1.6"/></g><g transform="translate(656.43 327.12) scale(0.91)"><path d="M0,-4.1L4.1,0L0,4.1L-4.1,0Z" fill="#000" stroke="#ffc000" stroke-width="1.6"/></g>
<path d="M100.91,279.5C103.9,289.94 105.97,300.69 109.87,310.82C111.99,316.32 113.24,324.21 118.83,326.06C122.92,327.41 123.61,317.8 127.79,316.75C133.64,315.27 139.8,318.1 145.71,319.29C151.76,320.5 157.58,322.73 163.63,323.94C169.54,325.13 175.53,326.11 181.55,326.48C190.49,327.03 199.48,326.27 208.43,326.69C217.41,327.12 226.34,328.42 235.31,329.02C244.26,329.62 253.23,329.87 262.19,330.29C274.14,330.85 286.07,331.74 298.03,331.98C309.97,332.23 321.92,331.91 333.87,331.77C345.82,331.63 357.76,331.03 369.71,331.14C381.66,331.24 393.6,332.28 405.55,332.41C420.48,332.56 435.42,332.14 450.35,331.98C465.28,331.82 480.22,331.69 495.15,331.43C513.07,331.12 530.99,329.92 548.91,330.29C566.86,330.66 584.73,333 602.67,333.68C620.58,334.35 638.51,334.13 656.43,334.35" fill="none" stroke="#5b9bd5" stroke-width="2.45" stroke-linecap="round" stroke-linejoin="round"/>
<g transform="translate(100.91 279.5) scale(0.91)"><circle cx="0" cy="0" r="4.4" fill="#5b9bd5"/></g><g transform="translate(109.87 310.82) scale(0.91)"><circle cx="0" cy="0" r="4.4" fill="#5b9bd5"/></g><g transform="translate(118.83 326.06) scale(0.91)"><circle cx="0" cy="0" r="4.4" fill="#5b9bd5"/></g><g transform="translate(127.79 316.75) scale(0.91)"><circle cx="0" cy="0" r="4.4" fill="#5b9bd5"/></g><g transform="translate(145.71 319.29) scale(0.91)"><circle cx="0" cy="0" r="4.4" fill="#5b9bd5"/></g><g transform="translate(163.63 323.94) scale(0.91)"><circle cx="0" cy="0" r="4.4" fill="#5b9bd5"/></g><g transform="translate(181.55 326.48) scale(0.91)"><circle cx="0" cy="0" r="4.4" fill="#5b9bd5"/></g><g transform="translate(208.43 326.69) scale(0.91)"><circle cx="0" cy="0" r="4.4" fill="#5b9bd5"/></g><g transform="translate(235.31 329.02) scale(0.91)"><circle cx="0" cy="0" r="4.4" fill="#5b9bd5"/></g><g transform="translate(262.19 330.29) scale(0.91)"><circle cx="0" cy="0" r="4.4" fill="#5b9bd5"/></g><g transform="translate(298.03 331.98) scale(0.91)"><circle cx="0" cy="0" r="4.4" fill="#5b9bd5"/></g><g transform="translate(333.87 331.77) scale(0.91)"><circle cx="0" cy="0" r="4.4" fill="#5b9bd5"/></g><g transform="translate(369.71 331.14) scale(0.91)"><circle cx="0" cy="0" r="4.4" fill="#5b9bd5"/></g><g transform="translate(405.55 332.41) scale(0.91)"><circle cx="0" cy="0" r="4.4" fill="#5b9bd5"/></g><g transform="translate(450.35 331.98) scale(0.91)"><circle cx="0" cy="0" r="4.4" fill="#5b9bd5"/></g><g transform="translate(495.15 331.43) scale(0.91)"><circle cx="0" cy="0" r="4.4" fill="#5b9bd5"/></g><g transform="translate(548.91 330.29) scale(0.91)"><circle cx="0" cy="0" r="4.4" fill="#5b9bd5"/></g><g transform="translate(602.67 333.68) scale(0.91)"><circle cx="0" cy="0" r="4.4" fill="#5b9bd5"/></g><g transform="translate(656.43 334.35) scale(0.91)"><circle cx="0" cy="0" r="4.4" fill="#5b9bd5"/></g>
<path d="M100.91,256.22C103.9,276.82 106.5,302.89 109.87,318.02C111.37,324.74 113.08,332.84 118.83,336.64C121.95,338.7 124.13,330.67 127.79,329.87C133.63,328.58 139.76,330.08 145.71,330.71C151.73,331.35 157.6,333.18 163.63,333.68C169.58,334.17 175.58,333.9 181.55,333.68C190.52,333.34 199.45,332.19 208.43,331.98C217.39,331.77 226.35,332.34 235.31,332.41C244.27,332.48 253.23,332.56 262.19,332.41C274.14,332.2 286.09,331.77 298.03,331.35C309.98,330.92 321.93,330.54 333.87,329.87C345.83,329.2 357.74,327.68 369.71,327.33C381.65,326.97 393.6,327.88 405.55,327.75C420.49,327.59 435.42,326.92 450.35,326.48C465.28,326.04 480.22,325.64 495.15,325.13C513.07,324.51 530.98,322.97 548.91,323.09C566.85,323.21 584.73,325.35 602.67,325.85C620.58,326.34 638.51,325.99 656.43,326.06" fill="none" stroke="#70ad47" stroke-width="2.45" stroke-linecap="round" stroke-linejoin="round"/>
<g transform="translate(100.91 256.22) scale(0.91)"><path d="M0,-3.6L3.7,3.6L-3.7,3.6Z" fill="#f00" stroke="#70ad47" stroke-width="1.7" stroke-linejoin="miter"/></g><g transform="translate(109.87 318.02) scale(0.91)"><path d="M0,-3.6L3.7,3.6L-3.7,3.6Z" fill="#f00" stroke="#70ad47" stroke-width="1.7" stroke-linejoin="miter"/></g><g transform="translate(118.83 336.64) scale(0.91)"><path d="M0,-3.6L3.7,3.6L-3.7,3.6Z" fill="#f00" stroke="#70ad47" stroke-width="1.7" stroke-linejoin="miter"/></g><g transform="translate(127.79 329.87) scale(0.91)"><path d="M0,-3.6L3.7,3.6L-3.7,3.6Z" fill="#f00" stroke="#70ad47" stroke-width="1.7" stroke-linejoin="miter"/></g><g transform="translate(145.71 330.71) scale(0.91)"><path d="M0,-3.6L3.7,3.6L-3.7,3.6Z" fill="#f00" stroke="#70ad47" stroke-width="1.7" stroke-linejoin="miter"/></g><g transform="translate(163.63 333.68) scale(0.91)"><path d="M0,-3.6L3.7,3.6L-3.7,3.6Z" fill="#f00" stroke="#70ad47" stroke-width="1.7" stroke-linejoin="miter"/></g><g transform="translate(181.55 333.68) scale(0.91)"><path d="M0,-3.6L3.7,3.6L-3.7,3.6Z" fill="#f00" stroke="#70ad47" stroke-width="1.7" stroke-linejoin="miter"/></g><g transform="translate(208.43 331.98) scale(0.91)"><path d="M0,-3.6L3.7,3.6L-3.7,3.6Z" fill="#f00" stroke="#70ad47" stroke-width="1.7" stroke-linejoin="miter"/></g><g transform="translate(235.31 332.41) scale(0.91)"><path d="M0,-3.6L3.7,3.6L-3.7,3.6Z" fill="#f00" stroke="#70ad47" stroke-width="1.7" stroke-linejoin="miter"/></g><g transform="translate(262.19 332.41) scale(0.91)"><path d="M0,-3.6L3.7,3.6L-3.7,3.6Z" fill="#f00" stroke="#70ad47" stroke-width="1.7" stroke-linejoin="miter"/></g><g transform="translate(298.03 331.35) scale(0.91)"><path d="M0,-3.6L3.7,3.6L-3.7,3.6Z" fill="#f00" stroke="#70ad47" stroke-width="1.7" stroke-linejoin="miter"/></g><g transform="translate(333.87 329.87) scale(0.91)"><path d="M0,-3.6L3.7,3.6L-3.7,3.6Z" fill="#f00" stroke="#70ad47" stroke-width="1.7" stroke-linejoin="miter"/></g><g transform="translate(369.71 327.33) scale(0.91)"><path d="M0,-3.6L3.7,3.6L-3.7,3.6Z" fill="#f00" stroke="#70ad47" stroke-width="1.7" stroke-linejoin="miter"/></g><g transform="translate(405.55 327.75) scale(0.91)"><path d="M0,-3.6L3.7,3.6L-3.7,3.6Z" fill="#f00" stroke="#70ad47" stroke-width="1.7" stroke-linejoin="miter"/></g><g transform="translate(450.35 326.48) scale(0.91)"><path d="M0,-3.6L3.7,3.6L-3.7,3.6Z" fill="#f00" stroke="#70ad47" stroke-width="1.7" stroke-linejoin="miter"/></g><g transform="translate(495.15 325.13) scale(0.91)"><path d="M0,-3.6L3.7,3.6L-3.7,3.6Z" fill="#f00" stroke="#70ad47" stroke-width="1.7" stroke-linejoin="miter"/></g><g transform="translate(548.91 323.09) scale(0.91)"><path d="M0,-3.6L3.7,3.6L-3.7,3.6Z" fill="#f00" stroke="#70ad47" stroke-width="1.7" stroke-linejoin="miter"/></g><g transform="translate(602.67 325.85) scale(0.91)"><path d="M0,-3.6L3.7,3.6L-3.7,3.6Z" fill="#f00" stroke="#70ad47" stroke-width="1.7" stroke-linejoin="miter"/></g><g transform="translate(656.43 326.06) scale(0.91)"><path d="M0,-3.6L3.7,3.6L-3.7,3.6Z" fill="#f00" stroke="#70ad47" stroke-width="1.7" stroke-linejoin="miter"/></g>
<path d="M100.91,268.92C103.9,281.62 105.7,294.65 109.87,307.01C111.73,312.54 113.58,319.49 118.83,322.04C122.12,323.63 124.16,316.17 127.79,315.69C133.78,314.89 139.8,317.18 145.71,318.44C151.76,319.73 157.58,322.02 163.63,323.31C169.54,324.56 175.52,325.63 181.55,326.06C190.49,326.69 199.48,326.02 208.43,326.48C217.41,326.94 226.34,328.21 235.31,328.81C244.26,329.41 253.23,329.65 262.19,330.08C274.14,330.64 286.07,331.49 298.03,331.77C309.97,332.05 321.92,331.88 333.87,331.77C345.82,331.67 357.76,331.03 369.71,331.14C381.66,331.24 393.6,332.28 405.55,332.41C420.48,332.56 435.42,332.14 450.35,331.98C465.28,331.82 480.22,331.69 495.15,331.43C513.07,331.12 530.99,329.92 548.91,330.29C566.86,330.66 584.73,333 602.67,333.68C620.58,334.35 638.51,334.13 656.43,334.35" fill="none" stroke="#264478" stroke-width="2.45" stroke-linecap="round" stroke-linejoin="round"/>
<g transform="translate(100.91 268.92) scale(0.91)"><rect x="-3.4" y="-3.4" width="6.8" height="6.8" fill="#f00" stroke="#f00" stroke-width="1.4" stroke-linejoin="round"/><path d="M-2.9,0H2.9M0,-2.9V2.9" stroke="#264478" stroke-width="1.5" fill="none"/></g><g transform="translate(109.87 307.01) scale(0.91)"><rect x="-3.4" y="-3.4" width="6.8" height="6.8" fill="#f00" stroke="#f00" stroke-width="1.4" stroke-linejoin="round"/><path d="M-2.9,0H2.9M0,-2.9V2.9" stroke="#264478" stroke-width="1.5" fill="none"/></g><g transform="translate(118.83 322.04) scale(0.91)"><rect x="-3.4" y="-3.4" width="6.8" height="6.8" fill="#f00" stroke="#f00" stroke-width="1.4" stroke-linejoin="round"/><path d="M-2.9,0H2.9M0,-2.9V2.9" stroke="#264478" stroke-width="1.5" fill="none"/></g><g transform="translate(127.79 315.69) scale(0.91)"><rect x="-3.4" y="-3.4" width="6.8" height="6.8" fill="#f00" stroke="#f00" stroke-width="1.4" stroke-linejoin="round"/><path d="M-2.9,0H2.9M0,-2.9V2.9" stroke="#264478" stroke-width="1.5" fill="none"/></g><g transform="translate(145.71 318.44) scale(0.91)"><rect x="-3.4" y="-3.4" width="6.8" height="6.8" fill="#f00" stroke="#f00" stroke-width="1.4" stroke-linejoin="round"/><path d="M-2.9,0H2.9M0,-2.9V2.9" stroke="#264478" stroke-width="1.5" fill="none"/></g><g transform="translate(163.63 323.31) scale(0.91)"><rect x="-3.4" y="-3.4" width="6.8" height="6.8" fill="#f00" stroke="#f00" stroke-width="1.4" stroke-linejoin="round"/><path d="M-2.9,0H2.9M0,-2.9V2.9" stroke="#264478" stroke-width="1.5" fill="none"/></g><g transform="translate(181.55 326.06) scale(0.91)"><rect x="-3.4" y="-3.4" width="6.8" height="6.8" fill="#f00" stroke="#f00" stroke-width="1.4" stroke-linejoin="round"/><path d="M-2.9,0H2.9M0,-2.9V2.9" stroke="#264478" stroke-width="1.5" fill="none"/></g><g transform="translate(208.43 326.48) scale(0.91)"><rect x="-3.4" y="-3.4" width="6.8" height="6.8" fill="#f00" stroke="#f00" stroke-width="1.4" stroke-linejoin="round"/><path d="M-2.9,0H2.9M0,-2.9V2.9" stroke="#264478" stroke-width="1.5" fill="none"/></g><g transform="translate(235.31 328.81) scale(0.91)"><rect x="-3.4" y="-3.4" width="6.8" height="6.8" fill="#f00" stroke="#f00" stroke-width="1.4" stroke-linejoin="round"/><path d="M-2.9,0H2.9M0,-2.9V2.9" stroke="#264478" stroke-width="1.5" fill="none"/></g><g transform="translate(262.19 330.08) scale(0.91)"><rect x="-3.4" y="-3.4" width="6.8" height="6.8" fill="#f00" stroke="#f00" stroke-width="1.4" stroke-linejoin="round"/><path d="M-2.9,0H2.9M0,-2.9V2.9" stroke="#264478" stroke-width="1.5" fill="none"/></g><g transform="translate(298.03 331.77) scale(0.91)"><rect x="-3.4" y="-3.4" width="6.8" height="6.8" fill="#f00" stroke="#f00" stroke-width="1.4" stroke-linejoin="round"/><path d="M-2.9,0H2.9M0,-2.9V2.9" stroke="#264478" stroke-width="1.5" fill="none"/></g><g transform="translate(333.87 331.77) scale(0.91)"><rect x="-3.4" y="-3.4" width="6.8" height="6.8" fill="#f00" stroke="#f00" stroke-width="1.4" stroke-linejoin="round"/><path d="M-2.9,0H2.9M0,-2.9V2.9" stroke="#264478" stroke-width="1.5" fill="none"/></g><g transform="translate(369.71 331.14) scale(0.91)"><rect x="-3.4" y="-3.4" width="6.8" height="6.8" fill="#f00" stroke="#f00" stroke-width="1.4" stroke-linejoin="round"/><path d="M-2.9,0H2.9M0,-2.9V2.9" stroke="#264478" stroke-width="1.5" fill="none"/></g><g transform="translate(405.55 332.41) scale(0.91)"><rect x="-3.4" y="-3.4" width="6.8" height="6.8" fill="#f00" stroke="#f00" stroke-width="1.4" stroke-linejoin="round"/><path d="M-2.9,0H2.9M0,-2.9V2.9" stroke="#264478" stroke-width="1.5" fill="none"/></g><g transform="translate(450.35 331.98) scale(0.91)"><rect x="-3.4" y="-3.4" width="6.8" height="6.8" fill="#f00" stroke="#f00" stroke-width="1.4" stroke-linejoin="round"/><path d="M-2.9,0H2.9M0,-2.9V2.9" stroke="#264478" stroke-width="1.5" fill="none"/></g><g transform="translate(495.15 331.43) scale(0.91)"><rect x="-3.4" y="-3.4" width="6.8" height="6.8" fill="#f00" stroke="#f00" stroke-width="1.4" stroke-linejoin="round"/><path d="M-2.9,0H2.9M0,-2.9V2.9" stroke="#264478" stroke-width="1.5" fill="none"/></g><g transform="translate(548.91 330.29) scale(0.91)"><rect x="-3.4" y="-3.4" width="6.8" height="6.8" fill="#f00" stroke="#f00" stroke-width="1.4" stroke-linejoin="round"/><path d="M-2.9,0H2.9M0,-2.9V2.9" stroke="#264478" stroke-width="1.5" fill="none"/></g><g transform="translate(602.67 333.68) scale(0.91)"><rect x="-3.4" y="-3.4" width="6.8" height="6.8" fill="#f00" stroke="#f00" stroke-width="1.4" stroke-linejoin="round"/><path d="M-2.9,0H2.9M0,-2.9V2.9" stroke="#264478" stroke-width="1.5" fill="none"/></g><g transform="translate(656.43 334.35) scale(0.91)"><rect x="-3.4" y="-3.4" width="6.8" height="6.8" fill="#f00" stroke="#f00" stroke-width="1.4" stroke-linejoin="round"/><path d="M-2.9,0H2.9M0,-2.9V2.9" stroke="#264478" stroke-width="1.5" fill="none"/></g>
<text x="295.5" y="257.5" font-size="15.8" fill="#000"><tspan x="295.5" textLength="25.37" lengthAdjust="spacingAndGlyphs">Site</tspan><tspan> </tspan><tspan x="326.8" textLength="11.79" lengthAdjust="spacingAndGlyphs">2:</tspan><tspan> </tspan><tspan x="344.9" textLength="69.47" lengthAdjust="spacingAndGlyphs">Kalyanpur</tspan><tspan> </tspan><tspan x="420.1" textLength="45.29" lengthAdjust="spacingAndGlyphs">Village</tspan></text>
<text x="320.9" y="373.7" font-size="16.6" font-weight="bold" style="stroke-width:0.3px" fill="#000"><tspan x="320.9" textLength="59.14" lengthAdjust="spacingAndGlyphs">Elapsed</tspan><tspan> </tspan><tspan x="386.25" textLength="34.2" lengthAdjust="spacingAndGlyphs">time</tspan><tspan> </tspan><tspan x="427.34" textLength="67.54" lengthAdjust="spacingAndGlyphs">(minute)</tspan></text>
<text x="39" y="398" font-size="16.4" font-weight="bold" transform="rotate(-90 39 398)" style="stroke-width:0.3px" fill="#000"><tspan x="39" textLength="31.02" lengthAdjust="spacingAndGlyphs">Bias</tspan><tspan> </tspan><tspan x="76.51" textLength="38.92" lengthAdjust="spacingAndGlyphs">Error</tspan><tspan> </tspan><tspan x="120.53" textLength="59.76" lengthAdjust="spacingAndGlyphs">(cm/hr)</tspan></text>
<text x="0" y="447.1" font-size="16.4" font-weight="bold" style="stroke-width:0.3px" fill="#000"><tspan x="-0.5" textLength="13.08" lengthAdjust="spacingAndGlyphs">b)</tspan></text>
<path d="M192.6,401.6H222.5" stroke="#ed7d31" stroke-width="2.75" stroke-linecap="round"/>
<path d="M207.55,397.4L211.75,401.6L207.55,405.8L203.35,401.6Z" fill="#ff0" stroke="#000" stroke-width="1.5"/>
<text x="227.2" y="405.2" font-size="13" fill="#000"><tspan x="227.2" textLength="40.22" lengthAdjust="spacingAndGlyphs">Philip's</tspan><tspan> </tspan><tspan x="271.1" textLength="37.48" lengthAdjust="spacingAndGlyphs">Model</tspan></text>
<path d="M192.6,418.5H222.5" stroke="#ffc000" stroke-width="2.75" stroke-linecap="round"/>
<path d="M207.55,414.4L211.65,418.5L207.55,422.6L203.45,418.5Z" fill="#000" stroke="#ffc000" stroke-width="1.6"/>
<text x="227.2" y="422.1" font-size="13" fill="#000"><tspan x="227.2" textLength="48.57" lengthAdjust="spacingAndGlyphs">Horton's</tspan><tspan> </tspan><tspan x="279.7" textLength="37.58" lengthAdjust="spacingAndGlyphs">Model</tspan></text>
<path d="M192.6,435.4H222.5" stroke="#70ad47" stroke-width="2.75" stroke-linecap="round"/>
<path d="M207.55,431.8L211.25,439L203.85,439Z" fill="#f00" stroke="#70ad47" stroke-width="1.7" stroke-linejoin="miter"/>
<text x="227.2" y="439" font-size="13" fill="#000"><tspan x="227.2" textLength="51.2" lengthAdjust="spacingAndGlyphs">Modified</tspan><tspan> </tspan><tspan x="283.1" textLength="64.92" lengthAdjust="spacingAndGlyphs">Kostiakov's</tspan><tspan> </tspan><tspan x="351.5" textLength="35.98" lengthAdjust="spacingAndGlyphs">Model</tspan></text>
<path d="M455.8,401.6H485.3" stroke="#000000" stroke-width="2.75" stroke-linecap="round"/>
<rect x="466.4" y="397.45" width="8.3" height="8.3" fill="#ff0" stroke="#7f7f7f" stroke-width="0.9"/>
<text x="489.6" y="405.2" font-size="13" fill="#000"><tspan x="489.6" textLength="37.19" lengthAdjust="spacingAndGlyphs">Green</tspan><tspan> </tspan><tspan x="530.6" textLength="31.69" lengthAdjust="spacingAndGlyphs">Ampt</tspan><tspan> </tspan><tspan x="566" textLength="35.28" lengthAdjust="spacingAndGlyphs">Model</tspan></text>
<path d="M455.8,418.5H485.3" stroke="#5b9bd5" stroke-width="2.75" stroke-linecap="round"/>
<circle cx="470.55" cy="418.5" r="4.4" fill="#5b9bd5"/>
<text x="489.6" y="422.1" font-size="13" fill="#000"><tspan x="489.6" textLength="65.32" lengthAdjust="spacingAndGlyphs">Kostiakov's</tspan><tspan> </tspan><tspan x="558.4" textLength="36.18" lengthAdjust="spacingAndGlyphs">Model</tspan></text>
<path d="M455.8,435.4H485.3" stroke="#264478" stroke-width="2.75" stroke-linecap="round"/>
<rect x="467.15" y="432" width="6.8" height="6.8" fill="#f00" stroke="#f00" stroke-width="1.4" stroke-linejoin="round"/><path d="M467.65,435.4H473.45M470.55,432.5V438.3" stroke="#264478" stroke-width="1.5" fill="none"/>
<text x="489.6" y="439" font-size="13" fill="#000"><tspan x="489.6" textLength="22.31" lengthAdjust="spacingAndGlyphs">SCS</tspan><tspan> </tspan><tspan x="515.7" textLength="35.18" lengthAdjust="spacingAndGlyphs">Model</tspan></text>
</g>
<g>
<g stroke="#000" stroke-width="1.3" stroke-linecap="round" stroke-linejoin="round" fill="none">
<path d="M82.95,463.2V663"/>
<path d="M78.65,463.2H82.95M78.65,483.18H82.95M78.65,503.16H82.95M78.65,523.14H82.95M78.65,543.12H82.95M78.65,563.1H82.95M78.65,583.08H82.95M78.65,603.06H82.95M78.65,623.04H82.95M78.65,643.02H82.95M78.65,663H82.95"/>
<path d="M78.65,563.1H674.45"/>
<path d="M105.7,563.1V559.8M128.45,563.1V559.8M151.2,563.1V559.8M173.95,563.1V559.8M196.7,563.1V559.8M196.7,563.1V567.3M219.45,563.1V559.8M242.2,563.1V559.8M264.95,563.1V559.8M287.7,563.1V559.8M310.45,563.1V559.8M310.45,563.1V567.3M333.2,563.1V559.8M355.95,563.1V559.8M378.7,563.1V559.8M401.45,563.1V559.8M424.2,563.1V559.8M424.2,563.1V567.3M446.95,563.1V559.8M469.7,563.1V559.8M492.45,563.1V559.8M515.2,563.1V559.8M537.95,563.1V559.8M537.95,563.1V567.3M560.7,563.1V559.8M583.45,563.1V559.8M606.2,563.1V559.8M628.95,563.1V559.8M651.7,563.1V559.8M651.7,563.1V567.3M674.45,563.1V559.8"/>
</g>
<g font-size="12.9">
<text x="69.6" y="467.6" text-anchor="end">10.0</text>
<text x="69.6" y="487.58" text-anchor="end">8.0</text>
<text x="69.6" y="507.56" text-anchor="end">6.0</text>
<text x="69.6" y="527.54" text-anchor="end">4.0</text>
<text x="69.6" y="547.52" text-anchor="end">2.0</text>
<text x="69.6" y="567.5" text-anchor="end">0.0</text>
<text x="69.6" y="587.48" text-anchor="end">-2.0</text>
<text x="69.6" y="607.46" text-anchor="end">-4.0</text>
<text x="69.6" y="627.44" text-anchor="end">-6.0</text>
<text x="69.6" y="647.42" text-anchor="end">-8.0</text>
<text x="69.6" y="667.4" text-anchor="end">-10.0</text>
<text x="82.95" y="585.4" text-anchor="middle">0</text>
<text x="196.7" y="585.4" text-anchor="middle">50</text>
<text x="310.45" y="585.4" text-anchor="middle">100</text>
<text x="424.2" y="585.4" text-anchor="middle">150</text>
<text x="537.95" y="585.4" text-anchor="middle">200</text>
<text x="651.7" y="585.4" text-anchor="middle">250</text>
</g>
<path d="M94.33,580.08C98.12,569.43 99.69,555.24 105.7,548.12C108.37,544.95 113.13,551.84 117.08,553.11C124.54,555.51 132.2,557.26 139.82,559.1C147.37,560.93 154.87,563.17 162.57,564.1C170.11,565.01 177.74,564.6 185.32,564.6C196.7,564.6 208.08,563.6 219.45,564.1C230.87,564.6 242.18,566.6 253.57,567.6C264.94,568.59 276.3,570.45 287.7,570.09C302.95,569.61 317.97,565.93 333.2,565.1C348.34,564.27 363.53,565.1 378.7,565.1C393.87,565.1 409.03,565.25 424.2,565.1C443.16,564.91 462.15,565.35 481.07,564.1C500.12,562.84 518.94,559.21 537.95,557.61C556.87,556.01 575.84,554.81 594.83,554.51C617.58,554.15 640.33,555.24 663.08,555.61" fill="none" stroke="#ed7d31" stroke-width="2.75" stroke-linecap="round" stroke-linejoin="round"/>
<g transform="translate(94.33 580.08) scale(0.95)"><path d="M0,-4L4,0L0,4L-4,0Z" fill="#000" stroke="#f00" stroke-width="1.6" stroke-linejoin="miter"/></g><g transform="translate(105.7 548.12) scale(0.95)"><path d="M0,-4L4,0L0,4L-4,0Z" fill="#000" stroke="#f00" stroke-width="1.6" stroke-linejoin="miter"/></g><g transform="translate(117.08 553.11) scale(0.95)"><path d="M0,-4L4,0L0,4L-4,0Z" fill="#000" stroke="#f00" stroke-width="1.6" stroke-linejoin="miter"/></g><g transform="translate(139.82 559.1) scale(0.95)"><path d="M0,-4L4,0L0,4L-4,0Z" fill="#000" stroke="#f00" stroke-width="1.6" stroke-linejoin="miter"/></g><g transform="translate(162.57 564.1) scale(0.95)"><path d="M0,-4L4,0L0,4L-4,0Z" fill="#000" stroke="#f00" stroke-width="1.6" stroke-linejoin="miter"/></g><g transform="translate(185.32 564.6) scale(0.95)"><path d="M0,-4L4,0L0,4L-4,0Z" fill="#000" stroke="#f00" stroke-width="1.6" stroke-linejoin="miter"/></g><g transform="translate(219.45 564.1) scale(0.95)"><path d="M0,-4L4,0L0,4L-4,0Z" fill="#000" stroke="#f00" stroke-width="1.6" stroke-linejoin="miter"/></g><g transform="translate(253.57 567.6) scale(0.95)"><path d="M0,-4L4,0L0,4L-4,0Z" fill="#000" stroke="#f00" stroke-width="1.6" stroke-linejoin="miter"/></g><g transform="translate(287.7 570.09) scale(0.95)"><path d="M0,-4L4,0L0,4L-4,0Z" fill="#000" stroke="#f00" stroke-width="1.6" stroke-linejoin="miter"/></g><g transform="translate(333.2 565.1) scale(0.95)"><path d="M0,-4L4,0L0,4L-4,0Z" fill="#000" stroke="#f00" stroke-width="1.6" stroke-linejoin="miter"/></g><g transform="translate(378.7 565.1) scale(0.95)"><path d="M0,-4L4,0L0,4L-4,0Z" fill="#000" stroke="#f00" stroke-width="1.6" stroke-linejoin="miter"/></g><g transform="translate(424.2 565.1) scale(0.95)"><path d="M0,-4L4,0L0,4L-4,0Z" fill="#000" stroke="#f00" stroke-width="1.6" stroke-linejoin="miter"/></g><g transform="translate(481.07 564.1) scale(0.95)"><path d="M0,-4L4,0L0,4L-4,0Z" fill="#000" stroke="#f00" stroke-width="1.6" stroke-linejoin="miter"/></g><g transform="translate(537.95 557.61) scale(0.95)"><path d="M0,-4L4,0L0,4L-4,0Z" fill="#000" stroke="#f00" stroke-width="1.6" stroke-linejoin="miter"/></g><g transform="translate(594.83 554.51) scale(0.95)"><path d="M0,-4L4,0L0,4L-4,0Z" fill="#000" stroke="#f00" stroke-width="1.6" stroke-linejoin="miter"/></g><g transform="translate(663.08 555.61) scale(0.95)"><path d="M0,-4L4,0L0,4L-4,0Z" fill="#000" stroke="#f00" stroke-width="1.6" stroke-linejoin="miter"/></g>
<path d="M94.33,572.39C98.12,565.63 99.33,556.53 105.7,552.11C109.05,549.79 113.21,555.31 117.08,556.61C124.59,559.14 132.13,561.66 139.82,563.6C147.32,565.49 154.89,567.25 162.57,568.1C170.11,568.92 177.74,568.79 185.32,568.59C196.72,568.29 208.06,566.35 219.45,566.6C230.88,566.85 242.17,569.34 253.57,570.09C264.93,570.84 276.34,571.73 287.7,571.09C302.95,570.23 317.96,566.68 333.2,565.6C348.33,564.52 363.53,564.85 378.7,564.6C393.87,564.35 409.04,564.39 424.2,564.1C443.16,563.73 462.15,563.85 481.07,562.6C500.1,561.35 518.97,558.42 537.95,556.61C556.89,554.79 575.81,552.35 594.83,551.71C617.56,550.95 640.33,552.18 663.08,552.41" fill="none" stroke="#000000" stroke-width="2.75" stroke-linecap="round" stroke-linejoin="round"/>
<g transform="translate(94.33 572.39) scale(0.95)"><rect x="-4.15" y="-4.15" width="8.3" height="8.3" fill="#ff0" stroke="#7f7f7f" stroke-width="0.9"/></g><g transform="translate(105.7 552.11) scale(0.95)"><rect x="-4.15" y="-4.15" width="8.3" height="8.3" fill="#ff0" stroke="#7f7f7f" stroke-width="0.9"/></g><g transform="translate(117.08 556.61) scale(0.95)"><rect x="-4.15" y="-4.15" width="8.3" height="8.3" fill="#ff0" stroke="#7f7f7f" stroke-width="0.9"/></g><g transform="translate(139.82 563.6) scale(0.95)"><rect x="-4.15" y="-4.15" width="8.3" height="8.3" fill="#ff0" stroke="#7f7f7f" stroke-width="0.9"/></g><g transform="translate(162.57 568.1) scale(0.95)"><rect x="-4.15" y="-4.15" width="8.3" height="8.3" fill="#ff0" stroke="#7f7f7f" stroke-width="0.9"/></g><g transform="translate(185.32 568.59) scale(0.95)"><rect x="-4.15" y="-4.15" width="8.3" height="8.3" fill="#ff0" stroke="#7f7f7f" stroke-width="0.9"/></g><g transform="translate(219.45 566.6) scale(0.95)"><rect x="-4.15" y="-4.15" width="8.3" height="8.3" fill="#ff0" stroke="#7f7f7f" stroke-width="0.9"/></g><g transform="translate(253.57 570.09) scale(0.95)"><rect x="-4.15" y="-4.15" width="8.3" height="8.3" fill="#ff0" stroke="#7f7f7f" stroke-width="0.9"/></g><g transform="translate(287.7 571.09) scale(0.95)"><rect x="-4.15" y="-4.15" width="8.3" height="8.3" fill="#ff0" stroke="#7f7f7f" stroke-width="0.9"/></g><g transform="translate(333.2 565.6) scale(0.95)"><rect x="-4.15" y="-4.15" width="8.3" height="8.3" fill="#ff0" stroke="#7f7f7f" stroke-width="0.9"/></g><g transform="translate(378.7 564.6) scale(0.95)"><rect x="-4.15" y="-4.15" width="8.3" height="8.3" fill="#ff0" stroke="#7f7f7f" stroke-width="0.9"/></g><g transform="translate(424.2 564.1) scale(0.95)"><rect x="-4.15" y="-4.15" width="8.3" height="8.3" fill="#ff0" stroke="#7f7f7f" stroke-width="0.9"/></g><g transform="translate(481.07 562.6) scale(0.95)"><rect x="-4.15" y="-4.15" width="8.3" height="8.3" fill="#ff0" stroke="#7f7f7f" stroke-width="0.9"/></g><g transform="translate(537.95 556.61) scale(0.95)"><rect x="-4.15" y="-4.15" width="8.3" height="8.3" fill="#ff0" stroke="#7f7f7f" stroke-width="0.9"/></g><g transform="translate(594.83 551.71) scale(0.95)"><rect x="-4.15" y="-4.15" width="8.3" height="8.3" fill="#ff0" stroke="#7f7f7f" stroke-width="0.9"/></g><g transform="translate(663.08 552.41) scale(0.95)"><rect x="-4.15" y="-4.15" width="8.3" height="8.3" fill="#ff0" stroke="#7f7f7f" stroke-width="0.9"/></g>
<path d="M94.33,644.02C98.12,620.71 102.49,585.51 105.7,574.09C107.13,569.01 112.36,565.45 117.08,563.1C124.1,559.61 132.07,558.3 139.82,557.11C147.33,555.95 154.99,556.44 162.57,556.11C170.16,555.77 177.74,555.33 185.32,555.11C196.7,554.77 208.08,553.94 219.45,554.41C230.87,554.88 242.21,556.69 253.57,557.91C264.96,559.12 276.26,561.56 287.7,561.7C302.89,561.89 318,558.84 333.2,558.9C348.4,558.97 363.51,561.4 378.7,562.1C393.85,562.8 409.03,563.03 424.2,563.1C443.16,563.19 462.14,563.52 481.07,562.6C500.08,561.68 518.97,558.94 537.95,557.61C556.89,556.27 575.84,554.9 594.83,554.61C617.58,554.26 640.33,555.34 663.08,555.71" fill="none" stroke="#ffc000" stroke-width="2.75" stroke-linecap="round" stroke-linejoin="round"/>
<g transform="translate(94.33 644.02) scale(0.95)"><path d="M0,-4.1L4.1,0L0,4.1L-4.1,0Z" fill="#000" stroke="#ffc000" stroke-width="1.6"/></g><g transform="translate(105.7 574.09) scale(0.95)"><path d="M0,-4.1L4.1,0L0,4.1L-4.1,0Z" fill="#000" stroke="#ffc000" stroke-width="1.6"/></g><g transform="translate(117.08 563.1) scale(0.95)"><path d="M0,-4.1L4.1,0L0,4.1L-4.1,0Z" fill="#000" stroke="#ffc000" stroke-width="1.6"/></g><g transform="translate(139.82 557.11) scale(0.95)"><path d="M0,-4.1L4.1,0L0,4.1L-4.1,0Z" fill="#000" stroke="#ffc000" stroke-width="1.6"/></g><g transform="translate(162.57 556.11) scale(0.95)"><path d="M0,-4.1L4.1,0L0,4.1L-4.1,0Z" fill="#000" stroke="#ffc000" stroke-width="1.6"/></g><g transform="translate(185.32 555.11) scale(0.95)"><path d="M0,-4.1L4.1,0L0,4.1L-4.1,0Z" fill="#000" stroke="#ffc000" stroke-width="1.6"/></g><g transform="translate(219.45 554.41) scale(0.95)"><path d="M0,-4.1L4.1,0L0,4.1L-4.1,0Z" fill="#000" stroke="#ffc000" stroke-width="1.6"/></g><g transform="translate(253.57 557.91) scale(0.95)"><path d="M0,-4.1L4.1,0L0,4.1L-4.1,0Z" fill="#000" stroke="#ffc000" stroke-width="1.6"/></g><g transform="translate(287.7 561.7) scale(0.95)"><path d="M0,-4.1L4.1,0L0,4.1L-4.1,0Z" fill="#000" stroke="#ffc000" stroke-width="1.6"/></g><g transform="translate(333.2 558.9) scale(0.95)"><path d="M0,-4.1L4.1,0L0,4.1L-4.1,0Z" fill="#000" stroke="#ffc000" stroke-width="1.6"/></g><g transform="translate(378.7 562.1) scale(0.95)"><path d="M0,-4.1L4.1,0L0,4.1L-4.1,0Z" fill="#000" stroke="#ffc000" stroke-width="1.6"/></g><g transform="translate(424.2 563.1) scale(0.95)"><path d="M0,-4.1L4.1,0L0,4.1L-4.1,0Z" fill="#000" stroke="#ffc000" stroke-width="1.6"/></g><g transform="translate(481.07 562.6) scale(0.95)"><path d="M0,-4.1L4.1,0L0,4.1L-4.1,0Z" fill="#000" stroke="#ffc000" stroke-width="1.6"/></g><g transform="translate(537.95 557.61) scale(0.95)"><path d="M0,-4.1L4.1,0L0,4.1L-4.1,0Z" fill="#000" stroke="#ffc000" stroke-width="1.6"/></g><g transform="translate(594.83 554.61) scale(0.95)"><path d="M0,-4.1L4.1,0L0,4.1L-4.1,0Z" fill="#000" stroke="#ffc000" stroke-width="1.6"/></g><g transform="translate(663.08 555.71) scale(0.95)"><path d="M0,-4.1L4.1,0L0,4.1L-4.1,0Z" fill="#000" stroke="#ffc000" stroke-width="1.6"/></g>
<path d="M94.33,590.57C98.12,577.42 101.2,558.52 105.7,551.11C107.7,547.82 113.29,552.39 117.08,553.11C124.67,554.55 132.27,555.95 139.82,557.61C147.44,559.28 154.84,562.08 162.57,563.1C170.1,564.09 177.74,563.6 185.32,563.6C196.7,563.6 208.08,562.6 219.45,563.1C230.87,563.6 242.18,565.6 253.57,566.6C264.94,567.59 276.3,569.31 287.7,569.09C302.92,568.81 317.99,565.68 333.2,565.1C348.36,564.52 363.53,565.51 378.7,565.6C393.87,565.68 409.03,565.67 424.2,565.6C443.16,565.5 462.15,566.18 481.07,565.1C500.11,564.01 518.95,560.64 537.95,559.1C556.88,557.57 575.84,556.21 594.83,555.91C617.58,555.54 640.33,556.71 663.08,557.11" fill="none" stroke="#5b9bd5" stroke-width="2.75" stroke-linecap="round" stroke-linejoin="round"/>
<g transform="translate(94.33 590.57) scale(0.95)"><circle cx="0" cy="0" r="4.4" fill="#5b9bd5"/></g><g transform="translate(105.7 551.11) scale(0.95)"><circle cx="0" cy="0" r="4.4" fill="#5b9bd5"/></g><g transform="translate(117.08 553.11) scale(0.95)"><circle cx="0" cy="0" r="4.4" fill="#5b9bd5"/></g><g transform="translate(139.82 557.61) scale(0.95)"><circle cx="0" cy="0" r="4.4" fill="#5b9bd5"/></g><g transform="translate(162.57 563.1) scale(0.95)"><circle cx="0" cy="0" r="4.4" fill="#5b9bd5"/></g><g transform="translate(185.32 563.6) scale(0.95)"><circle cx="0" cy="0" r="4.4" fill="#5b9bd5"/></g><g transform="translate(219.45 563.1) scale(0.95)"><circle cx="0" cy="0" r="4.4" fill="#5b9bd5"/></g><g transform="translate(253.57 566.6) scale(0.95)"><circle cx="0" cy="0" r="4.4" fill="#5b9bd5"/></g><g transform="translate(287.7 569.09) scale(0.95)"><circle cx="0" cy="0" r="4.4" fill="#5b9bd5"/></g><g transform="translate(333.2 565.1) scale(0.95)"><circle cx="0" cy="0" r="4.4" fill="#5b9bd5"/></g><g transform="translate(378.7 565.6) scale(0.95)"><circle cx="0" cy="0" r="4.4" fill="#5b9bd5"/></g><g transform="translate(424.2 565.6) scale(0.95)"><circle cx="0" cy="0" r="4.4" fill="#5b9bd5"/></g><g transform="translate(481.07 565.1) scale(0.95)"><circle cx="0" cy="0" r="4.4" fill="#5b9bd5"/></g><g transform="translate(537.95 559.1) scale(0.95)"><circle cx="0" cy="0" r="4.4" fill="#5b9bd5"/></g><g transform="translate(594.83 555.91) scale(0.95)"><circle cx="0" cy="0" r="4.4" fill="#5b9bd5"/></g><g transform="translate(663.08 557.11) scale(0.95)"><circle cx="0" cy="0" r="4.4" fill="#5b9bd5"/></g>
<path d="M94.33,581.08C98.12,571.76 99.48,559.67 105.7,553.11C108.47,550.19 113.19,556.06 117.08,557.11C124.59,559.13 132.21,560.71 139.82,562.3C147.38,563.88 154.89,565.87 162.57,566.6C170.12,567.31 177.74,566.8 185.32,566.6C196.71,566.3 208.07,564.85 219.45,565.1C230.87,565.35 242.18,567.43 253.57,568.1C264.94,568.76 276.34,569.81 287.7,569.09C302.97,568.14 317.94,564.24 333.2,563.1C348.33,561.97 363.53,562.43 378.7,562.3C393.87,562.17 409.03,562.43 424.2,562.3C443.16,562.13 462.15,562.6 481.07,561.4C500.11,560.2 518.98,557.07 537.95,555.11C556.9,553.14 575.79,550.34 594.83,549.61C617.56,548.74 640.33,550.08 663.08,550.31" fill="none" stroke="#70ad47" stroke-width="2.75" stroke-linecap="round" stroke-linejoin="round"/>
<g transform="translate(94.33 581.08) scale(0.95)"><path d="M0,-3.6L3.7,3.6L-3.7,3.6Z" fill="#f00" stroke="#70ad47" stroke-width="1.7" stroke-linejoin="miter"/></g><g transform="translate(105.7 553.11) scale(0.95)"><path d="M0,-3.6L3.7,3.6L-3.7,3.6Z" fill="#f00" stroke="#70ad47" stroke-width="1.7" stroke-linejoin="miter"/></g><g transform="translate(117.08 557.11) scale(0.95)"><path d="M0,-3.6L3.7,3.6L-3.7,3.6Z" fill="#f00" stroke="#70ad47" stroke-width="1.7" stroke-linejoin="miter"/></g><g transform="translate(139.82 562.3) scale(0.95)"><path d="M0,-3.6L3.7,3.6L-3.7,3.6Z" fill="#f00" stroke="#70ad47" stroke-width="1.7" stroke-linejoin="miter"/></g><g transform="translate(162.57 566.6) scale(0.95)"><path d="M0,-3.6L3.7,3.6L-3.7,3.6Z" fill="#f00" stroke="#70ad47" stroke-width="1.7" stroke-linejoin="miter"/></g><g transform="translate(185.32 566.6) scale(0.95)"><path d="M0,-3.6L3.7,3.6L-3.7,3.6Z" fill="#f00" stroke="#70ad47" stroke-width="1.7" stroke-linejoin="miter"/></g><g transform="translate(219.45 565.1) scale(0.95)"><path d="M0,-3.6L3.7,3.6L-3.7,3.6Z" fill="#f00" stroke="#70ad47" stroke-width="1.7" stroke-linejoin="miter"/></g><g transform="translate(253.57 568.1) scale(0.95)"><path d="M0,-3.6L3.7,3.6L-3.7,3.6Z" fill="#f00" stroke="#70ad47" stroke-width="1.7" stroke-linejoin="miter"/></g><g transform="translate(287.7 569.09) scale(0.95)"><path d="M0,-3.6L3.7,3.6L-3.7,3.6Z" fill="#f00" stroke="#70ad47" stroke-width="1.7" stroke-linejoin="miter"/></g><g transform="translate(333.2 563.1) scale(0.95)"><path d="M0,-3.6L3.7,3.6L-3.7,3.6Z" fill="#f00" stroke="#70ad47" stroke-width="1.7" stroke-linejoin="miter"/></g><g transform="translate(378.7 562.3) scale(0.95)"><path d="M0,-3.6L3.7,3.6L-3.7,3.6Z" fill="#f00" stroke="#70ad47" stroke-width="1.7" stroke-linejoin="miter"/></g><g transform="translate(424.2 562.3) scale(0.95)"><path d="M0,-3.6L3.7,3.6L-3.7,3.6Z" fill="#f00" stroke="#70ad47" stroke-width="1.7" stroke-linejoin="miter"/></g><g transform="translate(481.07 561.4) scale(0.95)"><path d="M0,-3.6L3.7,3.6L-3.7,3.6Z" fill="#f00" stroke="#70ad47" stroke-width="1.7" stroke-linejoin="miter"/></g><g transform="translate(537.95 555.11) scale(0.95)"><path d="M0,-3.6L3.7,3.6L-3.7,3.6Z" fill="#f00" stroke="#70ad47" stroke-width="1.7" stroke-linejoin="miter"/></g><g transform="translate(594.83 549.61) scale(0.95)"><path d="M0,-3.6L3.7,3.6L-3.7,3.6Z" fill="#f00" stroke="#70ad47" stroke-width="1.7" stroke-linejoin="miter"/></g><g transform="translate(663.08 550.31) scale(0.95)"><path d="M0,-3.6L3.7,3.6L-3.7,3.6Z" fill="#f00" stroke="#70ad47" stroke-width="1.7" stroke-linejoin="miter"/></g>
<path d="M94.33,586.08C98.12,573.99 100.8,557.06 105.7,549.81C107.88,546.59 113.31,551.44 117.08,552.41C124.69,554.37 132.17,556.81 139.82,558.6C147.35,560.37 154.89,562.24 162.57,563.1C170.11,563.94 177.74,563.66 185.32,563.7C196.7,563.76 208.09,562.87 219.45,563.4C230.87,563.93 242.19,565.86 253.57,566.9C264.94,567.93 276.29,569.85 287.7,569.59C302.94,569.25 317.97,565.73 333.2,565.1C348.36,564.47 363.53,565.68 378.7,565.8C393.87,565.91 409.03,565.93 424.2,565.8C443.16,565.63 462.15,566.09 481.07,564.9C500.11,563.69 518.94,560.19 537.95,558.6C556.87,557.03 575.84,555.68 594.83,555.41C617.58,555.08 640.33,556.34 663.08,556.81" fill="none" stroke="#264478" stroke-width="2.75" stroke-linecap="round" stroke-linejoin="round"/>
<g transform="translate(94.33 586.08) scale(0.95)"><rect x="-3.4" y="-3.4" width="6.8" height="6.8" fill="#f00" stroke="#f00" stroke-width="1.4" stroke-linejoin="round"/><path d="M-2.9,0H2.9M0,-2.9V2.9" stroke="#264478" stroke-width="1.5" fill="none"/></g><g transform="translate(105.7 549.81) scale(0.95)"><rect x="-3.4" y="-3.4" width="6.8" height="6.8" fill="#f00" stroke="#f00" stroke-width="1.4" stroke-linejoin="round"/><path d="M-2.9,0H2.9M0,-2.9V2.9" stroke="#264478" stroke-width="1.5" fill="none"/></g><g transform="translate(117.08 552.41) scale(0.95)"><rect x="-3.4" y="-3.4" width="6.8" height="6.8" fill="#f00" stroke="#f00" stroke-width="1.4" stroke-linejoin="round"/><path d="M-2.9,0H2.9M0,-2.9V2.9" stroke="#264478" stroke-width="1.5" fill="none"/></g><g transform="translate(139.82 558.6) scale(0.95)"><rect x="-3.4" y="-3.4" width="6.8" height="6.8" fill="#f00" stroke="#f00" stroke-width="1.4" stroke-linejoin="round"/><path d="M-2.9,0H2.9M0,-2.9V2.9" stroke="#264478" stroke-width="1.5" fill="none"/></g><g transform="translate(162.57 563.1) scale(0.95)"><rect x="-3.4" y="-3.4" width="6.8" height="6.8" fill="#f00" stroke="#f00" stroke-width="1.4" stroke-linejoin="round"/><path d="M-2.9,0H2.9M0,-2.9V2.9" stroke="#264478" stroke-width="1.5" fill="none"/></g><g transform="translate(185.32 563.7) scale(0.95)"><rect x="-3.4" y="-3.4" width="6.8" height="6.8" fill="#f00" stroke="#f00" stroke-width="1.4" stroke-linejoin="round"/><path d="M-2.9,0H2.9M0,-2.9V2.9" stroke="#264478" stroke-width="1.5" fill="none"/></g><g transform="translate(219.45 563.4) scale(0.95)"><rect x="-3.4" y="-3.4" width="6.8" height="6.8" fill="#f00" stroke="#f00" stroke-width="1.4" stroke-linejoin="round"/><path d="M-2.9,0H2.9M0,-2.9V2.9" stroke="#264478" stroke-width="1.5" fill="none"/></g><g transform="translate(253.57 566.9) scale(0.95)"><rect x="-3.4" y="-3.4" width="6.8" height="6.8" fill="#f00" stroke="#f00" stroke-width="1.4" stroke-linejoin="round"/><path d="M-2.9,0H2.9M0,-2.9V2.9" stroke="#264478" stroke-width="1.5" fill="none"/></g><g transform="translate(287.7 569.59) scale(0.95)"><rect x="-3.4" y="-3.4" width="6.8" height="6.8" fill="#f00" stroke="#f00" stroke-width="1.4" stroke-linejoin="round"/><path d="M-2.9,0H2.9M0,-2.9V2.9" stroke="#264478" stroke-width="1.5" fill="none"/></g><g transform="translate(333.2 565.1) scale(0.95)"><rect x="-3.4" y="-3.4" width="6.8" height="6.8" fill="#f00" stroke="#f00" stroke-width="1.4" stroke-linejoin="round"/><path d="M-2.9,0H2.9M0,-2.9V2.9" stroke="#264478" stroke-width="1.5" fill="none"/></g><g transform="translate(378.7 565.8) scale(0.95)"><rect x="-3.4" y="-3.4" width="6.8" height="6.8" fill="#f00" stroke="#f00" stroke-width="1.4" stroke-linejoin="round"/><path d="M-2.9,0H2.9M0,-2.9V2.9" stroke="#264478" stroke-width="1.5" fill="none"/></g><g transform="translate(424.2 565.8) scale(0.95)"><rect x="-3.4" y="-3.4" width="6.8" height="6.8" fill="#f00" stroke="#f00" stroke-width="1.4" stroke-linejoin="round"/><path d="M-2.9,0H2.9M0,-2.9V2.9" stroke="#264478" stroke-width="1.5" fill="none"/></g><g transform="translate(481.07 564.9) scale(0.95)"><rect x="-3.4" y="-3.4" width="6.8" height="6.8" fill="#f00" stroke="#f00" stroke-width="1.4" stroke-linejoin="round"/><path d="M-2.9,0H2.9M0,-2.9V2.9" stroke="#264478" stroke-width="1.5" fill="none"/></g><g transform="translate(537.95 558.6) scale(0.95)"><rect x="-3.4" y="-3.4" width="6.8" height="6.8" fill="#f00" stroke="#f00" stroke-width="1.4" stroke-linejoin="round"/><path d="M-2.9,0H2.9M0,-2.9V2.9" stroke="#264478" stroke-width="1.5" fill="none"/></g><g transform="translate(594.83 555.41) scale(0.95)"><rect x="-3.4" y="-3.4" width="6.8" height="6.8" fill="#f00" stroke="#f00" stroke-width="1.4" stroke-linejoin="round"/><path d="M-2.9,0H2.9M0,-2.9V2.9" stroke="#264478" stroke-width="1.5" fill="none"/></g><g transform="translate(663.08 556.81) scale(0.95)"><rect x="-3.4" y="-3.4" width="6.8" height="6.8" fill="#f00" stroke="#f00" stroke-width="1.4" stroke-linejoin="round"/><path d="M-2.9,0H2.9M0,-2.9V2.9" stroke="#264478" stroke-width="1.5" fill="none"/></g>
<text x="270.9" y="486" font-size="15.8" fill="#000"><tspan x="270.9" textLength="64.37" lengthAdjust="spacingAndGlyphs">Aamwala</tspan><tspan> </tspan><tspan x="342.5" textLength="47.96" lengthAdjust="spacingAndGlyphs">Langha</tspan><tspan> </tspan><tspan x="396.4" textLength="45.59" lengthAdjust="spacingAndGlyphs">Village</tspan></text>
<text x="327.3" y="613.5" font-size="16.6" font-weight="bold" style="stroke-width:0.3px" fill="#000"><tspan x="327.3" textLength="59.27" lengthAdjust="spacingAndGlyphs">Elapsed</tspan><tspan> </tspan><tspan x="392.8" textLength="34.28" lengthAdjust="spacingAndGlyphs">time</tspan><tspan> </tspan><tspan x="433.99" textLength="67.69" lengthAdjust="spacingAndGlyphs">(minute)</tspan></text>
<text x="38.5" y="633.3" font-size="16.4" font-weight="bold" transform="rotate(-90 38.5 633.3)" style="stroke-width:0.3px" fill="#000"><tspan x="38.5" textLength="31" lengthAdjust="spacingAndGlyphs">Bias</tspan><tspan> </tspan><tspan x="75.98" textLength="38.89" lengthAdjust="spacingAndGlyphs">Error</tspan><tspan> </tspan><tspan x="119.97" textLength="59.71" lengthAdjust="spacingAndGlyphs">(cm/hr)</tspan></text>
<text x="0" y="675.9" font-size="16.4" font-weight="bold" style="stroke-width:0.3px" fill="#000"><tspan x="-1" textLength="11.59" lengthAdjust="spacingAndGlyphs">c)</tspan></text>
<path d="M190.6,631.1H220.3" stroke="#ed7d31" stroke-width="2.75" stroke-linecap="round"/>
<path d="M205.45,627.1L209.45,631.1L205.45,635.1L201.45,631.1Z" fill="#000" stroke="#f00" stroke-width="1.6" stroke-linejoin="miter"/>
<text x="224.7" y="634.7" font-size="13" fill="#000"><tspan x="224.7" textLength="40.22" lengthAdjust="spacingAndGlyphs">Philip's</tspan><tspan> </tspan><tspan x="268.6" textLength="37.48" lengthAdjust="spacingAndGlyphs">Model</tspan></text>
<path d="M190.6,649.7H220.3" stroke="#ffc000" stroke-width="2.75" stroke-linecap="round"/>
<path d="M205.45,645.6L209.55,649.7L205.45,653.8L201.35,649.7Z" fill="#000" stroke="#ffc000" stroke-width="1.6"/>
<text x="224.7" y="653.3" font-size="13" fill="#000"><tspan x="224.7" textLength="48.57" lengthAdjust="spacingAndGlyphs">Horton's</tspan><tspan> </tspan><tspan x="277.2" textLength="37.58" lengthAdjust="spacingAndGlyphs">Model</tspan></text>
<path d="M190.6,668.9H220.3" stroke="#70ad47" stroke-width="2.75" stroke-linecap="round"/>
<path d="M205.45,665.3L209.15,672.5L201.75,672.5Z" fill="#f00" stroke="#70ad47" stroke-width="1.7" stroke-linejoin="miter"/>
<text x="224.7" y="672.5" font-size="13" fill="#000"><tspan x="224.7" textLength="51.2" lengthAdjust="spacingAndGlyphs">Modified</tspan><tspan> </tspan><tspan x="280.6" textLength="64.92" lengthAdjust="spacingAndGlyphs">Kostiakov's</tspan><tspan> </tspan><tspan x="349" textLength="35.98" lengthAdjust="spacingAndGlyphs">Model</tspan></text>
<path d="M455.8,631.1H485.3" stroke="#000000" stroke-width="2.75" stroke-linecap="round"/>
<rect x="466.4" y="626.95" width="8.3" height="8.3" fill="#ff0" stroke="#7f7f7f" stroke-width="0.9"/>
<text x="489.6" y="634.7" font-size="13" fill="#000"><tspan x="489.6" textLength="37.19" lengthAdjust="spacingAndGlyphs">Green</tspan><tspan> </tspan><tspan x="530.6" textLength="31.69" lengthAdjust="spacingAndGlyphs">Ampt</tspan><tspan> </tspan><tspan x="566" textLength="35.28" lengthAdjust="spacingAndGlyphs">Model</tspan></text>
<path d="M455.8,649.7H485.3" stroke="#5b9bd5" stroke-width="2.75" stroke-linecap="round"/>
<circle cx="470.55" cy="649.7" r="4.4" fill="#5b9bd5"/>
<text x="489.6" y="653.3" font-size="13" fill="#000"><tspan x="489.6" textLength="65.32" lengthAdjust="spacingAndGlyphs">Kostiakov's</tspan><tspan> </tspan><tspan x="558.4" textLength="36.18" lengthAdjust="spacingAndGlyphs">Model</tspan></text>
<path d="M455.8,668.9H485.3" stroke="#264478" stroke-width="2.75" stroke-linecap="round"/>
<rect x="467.15" y="665.5" width="6.8" height="6.8" fill="#f00" stroke="#f00" stroke-width="1.4" stroke-linejoin="round"/><path d="M467.65,668.9H473.45M470.55,666V671.8" stroke="#264478" stroke-width="1.5" fill="none"/>
<text x="489.6" y="672.5" font-size="13" fill="#000"><tspan x="489.6" textLength="22.31" lengthAdjust="spacingAndGlyphs">SCS</tspan><tspan> </tspan><tspan x="515.7" textLength="35.18" lengthAdjust="spacingAndGlyphs">Model</tspan></text>
</g>
</svg></body></html>
